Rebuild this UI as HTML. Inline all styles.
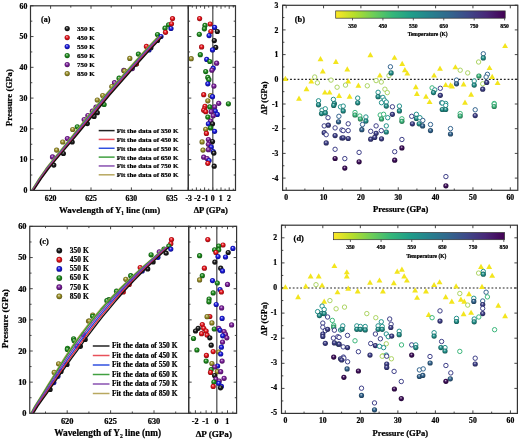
<!DOCTYPE html>
<html><head><meta charset="utf-8"><title>Figure</title>
<style>
html,body{margin:0;padding:0;background:#fff;width:520px;height:441px;overflow:hidden}
svg{display:block;font-family:"Liberation Serif","Times New Roman",serif}
text{stroke:#000;stroke-width:0.22px;fill:#000}
</style></head><body>
<svg width="520" height="441" viewBox="0 0 520 441">
<defs><radialGradient id="g0" cx="0.5" cy="0.5" r="0.55" fx="0.42" fy="0.32"><stop offset="0" stop-color="#c6c6c6"/><stop offset="0.45" stop-color="#1a1a1a"/><stop offset="1" stop-color="#0e0e0e"/></radialGradient><radialGradient id="g1" cx="0.5" cy="0.5" r="0.55" fx="0.42" fy="0.32"><stop offset="0" stop-color="#dec7e6"/><stop offset="0.45" stop-color="#7a1e9a"/><stop offset="1" stop-color="#431055"/></radialGradient><radialGradient id="g2" cx="0.5" cy="0.5" r="0.55" fx="0.42" fy="0.32"><stop offset="0" stop-color="#e6e3c9"/><stop offset="0.45" stop-color="#9a9028"/><stop offset="1" stop-color="#554f16"/></radialGradient><radialGradient id="g3" cx="0.5" cy="0.5" r="0.55" fx="0.42" fy="0.32"><stop offset="0" stop-color="#c7e2c7"/><stop offset="0.45" stop-color="#1e8c1e"/><stop offset="1" stop-color="#104d10"/></radialGradient><radialGradient id="g4" cx="0.5" cy="0.5" r="0.55" fx="0.42" fy="0.32"><stop offset="0" stop-color="#c6c6f7"/><stop offset="0.45" stop-color="#1a1ae0"/><stop offset="1" stop-color="#0e0e7b"/></radialGradient><radialGradient id="g5" cx="0.5" cy="0.5" r="0.55" fx="0.42" fy="0.32"><stop offset="0" stop-color="#f9c4c6"/><stop offset="0.45" stop-color="#e8141c"/><stop offset="1" stop-color="#800b0f"/></radialGradient><radialGradient id="g6" cx="0.5" cy="0.5" r="0.55" fx="0.42" fy="0.32"><stop offset="0" stop-color="#c8e4e2"/><stop offset="0.45" stop-color="#23918b"/><stop offset="1" stop-color="#13504c"/></radialGradient><radialGradient id="g7" cx="0.5" cy="0.5" r="0.55" fx="0.42" fy="0.32"><stop offset="0" stop-color="#cfcfe1"/><stop offset="0.45" stop-color="#3e3f88"/><stop offset="1" stop-color="#22234b"/></radialGradient><radialGradient id="g8" cx="0.5" cy="0.5" r="0.55" fx="0.42" fy="0.32"><stop offset="0" stop-color="#ceedde"/><stop offset="0.45" stop-color="#3cb77c"/><stop offset="1" stop-color="#216544"/></radialGradient><radialGradient id="g9" cx="0.5" cy="0.5" r="0.55" fx="0.42" fy="0.32"><stop offset="0" stop-color="#ccd8e3"/><stop offset="0.45" stop-color="#33648e"/><stop offset="1" stop-color="#1c374e"/></radialGradient><radialGradient id="g10" cx="0.5" cy="0.5" r="0.55" fx="0.42" fy="0.32"><stop offset="0" stop-color="#cec2d5"/><stop offset="0.45" stop-color="#3c0d58"/><stop offset="1" stop-color="#210730"/></radialGradient><linearGradient id="viridis" x1="0" y1="0" x2="1" y2="0"><stop offset="0.000" stop-color="#fde725"/><stop offset="0.111" stop-color="#b5de2b"/><stop offset="0.222" stop-color="#6ece58"/><stop offset="0.333" stop-color="#35b779"/><stop offset="0.444" stop-color="#1f9e89"/><stop offset="0.556" stop-color="#26828e"/><stop offset="0.667" stop-color="#31688e"/><stop offset="0.778" stop-color="#3e4989"/><stop offset="0.889" stop-color="#482878"/><stop offset="1.000" stop-color="#440154"/></linearGradient></defs>
<rect width="520" height="441" fill="#fff"/>
<line x1="30.50" y1="190.40" x2="33.50" y2="190.40" stroke="#333" stroke-width="0.9" />
<line x1="188.30" y1="190.40" x2="191.30" y2="190.40" stroke="#333" stroke-width="0.9" />
<line x1="235.50" y1="190.40" x2="232.50" y2="190.40" stroke="#333" stroke-width="0.9" />
<text x="27.30" y="193.20" font-size="7.8" text-anchor="end" font-weight="bold" >0</text>
<line x1="30.50" y1="175.02" x2="32.30" y2="175.02" stroke="#333" stroke-width="0.9" />
<line x1="188.30" y1="175.02" x2="190.10" y2="175.02" stroke="#333" stroke-width="0.9" />
<line x1="235.50" y1="175.02" x2="233.70" y2="175.02" stroke="#333" stroke-width="0.9" />
<line x1="30.50" y1="159.63" x2="33.50" y2="159.63" stroke="#333" stroke-width="0.9" />
<line x1="188.30" y1="159.63" x2="191.30" y2="159.63" stroke="#333" stroke-width="0.9" />
<line x1="235.50" y1="159.63" x2="232.50" y2="159.63" stroke="#333" stroke-width="0.9" />
<text x="27.30" y="162.43" font-size="7.8" text-anchor="end" font-weight="bold" >10</text>
<line x1="30.50" y1="144.25" x2="32.30" y2="144.25" stroke="#333" stroke-width="0.9" />
<line x1="188.30" y1="144.25" x2="190.10" y2="144.25" stroke="#333" stroke-width="0.9" />
<line x1="235.50" y1="144.25" x2="233.70" y2="144.25" stroke="#333" stroke-width="0.9" />
<line x1="30.50" y1="128.86" x2="33.50" y2="128.86" stroke="#333" stroke-width="0.9" />
<line x1="188.30" y1="128.86" x2="191.30" y2="128.86" stroke="#333" stroke-width="0.9" />
<line x1="235.50" y1="128.86" x2="232.50" y2="128.86" stroke="#333" stroke-width="0.9" />
<text x="27.30" y="131.66" font-size="7.8" text-anchor="end" font-weight="bold" >20</text>
<line x1="30.50" y1="113.48" x2="32.30" y2="113.48" stroke="#333" stroke-width="0.9" />
<line x1="188.30" y1="113.48" x2="190.10" y2="113.48" stroke="#333" stroke-width="0.9" />
<line x1="235.50" y1="113.48" x2="233.70" y2="113.48" stroke="#333" stroke-width="0.9" />
<line x1="30.50" y1="98.09" x2="33.50" y2="98.09" stroke="#333" stroke-width="0.9" />
<line x1="188.30" y1="98.09" x2="191.30" y2="98.09" stroke="#333" stroke-width="0.9" />
<line x1="235.50" y1="98.09" x2="232.50" y2="98.09" stroke="#333" stroke-width="0.9" />
<text x="27.30" y="100.89" font-size="7.8" text-anchor="end" font-weight="bold" >30</text>
<line x1="30.50" y1="82.71" x2="32.30" y2="82.71" stroke="#333" stroke-width="0.9" />
<line x1="188.30" y1="82.71" x2="190.10" y2="82.71" stroke="#333" stroke-width="0.9" />
<line x1="235.50" y1="82.71" x2="233.70" y2="82.71" stroke="#333" stroke-width="0.9" />
<line x1="30.50" y1="67.32" x2="33.50" y2="67.32" stroke="#333" stroke-width="0.9" />
<line x1="188.30" y1="67.32" x2="191.30" y2="67.32" stroke="#333" stroke-width="0.9" />
<line x1="235.50" y1="67.32" x2="232.50" y2="67.32" stroke="#333" stroke-width="0.9" />
<text x="27.30" y="70.12" font-size="7.8" text-anchor="end" font-weight="bold" >40</text>
<line x1="30.50" y1="51.94" x2="32.30" y2="51.94" stroke="#333" stroke-width="0.9" />
<line x1="188.30" y1="51.94" x2="190.10" y2="51.94" stroke="#333" stroke-width="0.9" />
<line x1="235.50" y1="51.94" x2="233.70" y2="51.94" stroke="#333" stroke-width="0.9" />
<line x1="30.50" y1="36.55" x2="33.50" y2="36.55" stroke="#333" stroke-width="0.9" />
<line x1="188.30" y1="36.55" x2="191.30" y2="36.55" stroke="#333" stroke-width="0.9" />
<line x1="235.50" y1="36.55" x2="232.50" y2="36.55" stroke="#333" stroke-width="0.9" />
<text x="27.30" y="39.35" font-size="7.8" text-anchor="end" font-weight="bold" >50</text>
<line x1="30.50" y1="21.17" x2="32.30" y2="21.17" stroke="#333" stroke-width="0.9" />
<line x1="188.30" y1="21.17" x2="190.10" y2="21.17" stroke="#333" stroke-width="0.9" />
<line x1="235.50" y1="21.17" x2="233.70" y2="21.17" stroke="#333" stroke-width="0.9" />
<line x1="30.50" y1="5.78" x2="33.50" y2="5.78" stroke="#333" stroke-width="0.9" />
<line x1="188.30" y1="5.78" x2="191.30" y2="5.78" stroke="#333" stroke-width="0.9" />
<line x1="235.50" y1="5.78" x2="232.50" y2="5.78" stroke="#333" stroke-width="0.9" />
<text x="27.30" y="8.58" font-size="7.8" text-anchor="end" font-weight="bold" >60</text>
<line x1="50.60" y1="190.40" x2="50.60" y2="187.40" stroke="#333" stroke-width="0.9" />
<line x1="50.60" y1="5.80" x2="50.60" y2="8.80" stroke="#333" stroke-width="0.9" />
<text x="50.60" y="200.60" font-size="7.8" text-anchor="middle" font-weight="bold" >620</text>
<line x1="70.80" y1="190.40" x2="70.80" y2="188.60" stroke="#333" stroke-width="0.9" />
<line x1="70.80" y1="5.80" x2="70.80" y2="7.60" stroke="#333" stroke-width="0.9" />
<line x1="91.00" y1="190.40" x2="91.00" y2="187.40" stroke="#333" stroke-width="0.9" />
<line x1="91.00" y1="5.80" x2="91.00" y2="8.80" stroke="#333" stroke-width="0.9" />
<text x="91.00" y="200.60" font-size="7.8" text-anchor="middle" font-weight="bold" >625</text>
<line x1="111.20" y1="190.40" x2="111.20" y2="188.60" stroke="#333" stroke-width="0.9" />
<line x1="111.20" y1="5.80" x2="111.20" y2="7.60" stroke="#333" stroke-width="0.9" />
<line x1="131.40" y1="190.40" x2="131.40" y2="187.40" stroke="#333" stroke-width="0.9" />
<line x1="131.40" y1="5.80" x2="131.40" y2="8.80" stroke="#333" stroke-width="0.9" />
<text x="131.40" y="200.60" font-size="7.8" text-anchor="middle" font-weight="bold" >630</text>
<line x1="151.60" y1="190.40" x2="151.60" y2="188.60" stroke="#333" stroke-width="0.9" />
<line x1="151.60" y1="5.80" x2="151.60" y2="7.60" stroke="#333" stroke-width="0.9" />
<line x1="171.80" y1="190.40" x2="171.80" y2="187.40" stroke="#333" stroke-width="0.9" />
<line x1="171.80" y1="5.80" x2="171.80" y2="8.80" stroke="#333" stroke-width="0.9" />
<text x="171.80" y="200.60" font-size="7.8" text-anchor="middle" font-weight="bold" >635</text>
<line x1="188.20" y1="190.40" x2="188.20" y2="187.40" stroke="#333" stroke-width="0.9" />
<line x1="188.20" y1="5.80" x2="188.20" y2="8.80" stroke="#333" stroke-width="0.9" />
<line x1="192.30" y1="190.40" x2="192.30" y2="188.60" stroke="#333" stroke-width="0.9" />
<line x1="192.30" y1="5.80" x2="192.30" y2="7.60" stroke="#333" stroke-width="0.9" />
<line x1="196.40" y1="190.40" x2="196.40" y2="187.40" stroke="#333" stroke-width="0.9" />
<line x1="196.40" y1="5.80" x2="196.40" y2="8.80" stroke="#333" stroke-width="0.9" />
<line x1="200.50" y1="190.40" x2="200.50" y2="188.60" stroke="#333" stroke-width="0.9" />
<line x1="200.50" y1="5.80" x2="200.50" y2="7.60" stroke="#333" stroke-width="0.9" />
<line x1="204.60" y1="190.40" x2="204.60" y2="187.40" stroke="#333" stroke-width="0.9" />
<line x1="204.60" y1="5.80" x2="204.60" y2="8.80" stroke="#333" stroke-width="0.9" />
<line x1="208.70" y1="190.40" x2="208.70" y2="188.60" stroke="#333" stroke-width="0.9" />
<line x1="208.70" y1="5.80" x2="208.70" y2="7.60" stroke="#333" stroke-width="0.9" />
<line x1="212.80" y1="190.40" x2="212.80" y2="187.40" stroke="#333" stroke-width="0.9" />
<line x1="212.80" y1="5.80" x2="212.80" y2="8.80" stroke="#333" stroke-width="0.9" />
<line x1="216.90" y1="190.40" x2="216.90" y2="188.60" stroke="#333" stroke-width="0.9" />
<line x1="216.90" y1="5.80" x2="216.90" y2="7.60" stroke="#333" stroke-width="0.9" />
<line x1="221.00" y1="190.40" x2="221.00" y2="187.40" stroke="#333" stroke-width="0.9" />
<line x1="221.00" y1="5.80" x2="221.00" y2="8.80" stroke="#333" stroke-width="0.9" />
<line x1="225.10" y1="190.40" x2="225.10" y2="188.60" stroke="#333" stroke-width="0.9" />
<line x1="225.10" y1="5.80" x2="225.10" y2="7.60" stroke="#333" stroke-width="0.9" />
<line x1="229.20" y1="190.40" x2="229.20" y2="187.40" stroke="#333" stroke-width="0.9" />
<line x1="229.20" y1="5.80" x2="229.20" y2="8.80" stroke="#333" stroke-width="0.9" />
<line x1="233.30" y1="190.40" x2="233.30" y2="188.60" stroke="#333" stroke-width="0.9" />
<line x1="233.30" y1="5.80" x2="233.30" y2="7.60" stroke="#333" stroke-width="0.9" />
<line x1="212.80" y1="5.80" x2="212.80" y2="190.40" stroke="#555" stroke-width="1.3" />
<text x="188.75" y="200.60" font-size="7.8" text-anchor="middle" font-weight="bold" >-3</text>
<text x="197.50" y="200.60" font-size="7.8" text-anchor="middle" font-weight="bold" >-2</text>
<text x="205.20" y="200.60" font-size="7.8" text-anchor="middle" font-weight="bold" >-1</text>
<text x="212.75" y="200.60" font-size="7.8" text-anchor="middle" font-weight="bold" >0</text>
<text x="220.80" y="200.60" font-size="7.8" text-anchor="middle" font-weight="bold" >1</text>
<text x="229.00" y="200.60" font-size="7.8" text-anchor="middle" font-weight="bold" >2</text>
<circle cx="53.80" cy="165.10" r="2.6" fill="url(#g0)"/>
<circle cx="63.40" cy="153.50" r="2.6" fill="url(#g0)"/>
<circle cx="72.20" cy="142.00" r="2.6" fill="url(#g0)"/>
<circle cx="87.30" cy="123.60" r="2.6" fill="url(#g0)"/>
<circle cx="94.10" cy="116.40" r="2.6" fill="url(#g0)"/>
<circle cx="97.30" cy="112.70" r="2.6" fill="url(#g0)"/>
<circle cx="136.30" cy="64.10" r="2.6" fill="url(#g0)"/>
<circle cx="157.50" cy="40.50" r="2.6" fill="url(#g0)"/>
<circle cx="150.90" cy="47.70" r="2.6" fill="url(#g0)"/>
<circle cx="52.50" cy="156.90" r="2.6" fill="url(#g1)"/>
<circle cx="67.40" cy="138.60" r="2.6" fill="url(#g1)"/>
<circle cx="84.20" cy="119.60" r="2.6" fill="url(#g1)"/>
<circle cx="87.90" cy="115.50" r="2.6" fill="url(#g1)"/>
<circle cx="92.40" cy="111.20" r="2.6" fill="url(#g1)"/>
<circle cx="96.00" cy="107.20" r="2.6" fill="url(#g1)"/>
<circle cx="114.50" cy="82.70" r="2.6" fill="url(#g1)"/>
<circle cx="123.80" cy="70.40" r="2.6" fill="url(#g1)"/>
<circle cx="132.30" cy="68.60" r="2.6" fill="url(#g1)"/>
<circle cx="56.60" cy="150.10" r="2.6" fill="url(#g2)"/>
<circle cx="62.70" cy="142.00" r="2.6" fill="url(#g2)"/>
<circle cx="72.70" cy="129.50" r="2.6" fill="url(#g2)"/>
<circle cx="97.30" cy="100.00" r="2.6" fill="url(#g2)"/>
<circle cx="102.70" cy="95.50" r="2.6" fill="url(#g2)"/>
<circle cx="111.80" cy="86.50" r="2.6" fill="url(#g2)"/>
<circle cx="124.50" cy="70.90" r="2.6" fill="url(#g2)"/>
<circle cx="129.80" cy="58.40" r="2.6" fill="url(#g2)"/>
<circle cx="77.30" cy="126.80" r="2.6" fill="url(#g3)"/>
<circle cx="104.10" cy="104.50" r="2.6" fill="url(#g3)"/>
<circle cx="119.10" cy="78.20" r="2.6" fill="url(#g3)"/>
<circle cx="138.40" cy="54.10" r="2.6" fill="url(#g3)"/>
<circle cx="157.50" cy="34.50" r="2.6" fill="url(#g3)"/>
<circle cx="165.00" cy="28.20" r="2.6" fill="url(#g3)"/>
<circle cx="168.60" cy="24.80" r="2.6" fill="url(#g3)"/>
<circle cx="149.00" cy="49.90" r="2.6" fill="url(#g4)"/>
<circle cx="161.00" cy="36.50" r="2.6" fill="url(#g4)"/>
<circle cx="171.00" cy="28.50" r="2.6" fill="url(#g4)"/>
<circle cx="136.40" cy="63.60" r="2.6" fill="url(#g5)"/>
<circle cx="146.40" cy="46.40" r="2.6" fill="url(#g5)"/>
<circle cx="165.50" cy="32.30" r="2.6" fill="url(#g5)"/>
<circle cx="171.50" cy="23.80" r="2.6" fill="url(#g5)"/>
<circle cx="172.50" cy="18.60" r="2.6" fill="url(#g5)"/>
<path d="M31.59,190.40 L38.94,178.60 L45.62,169.00 L52.53,160.20 L59.74,151.40 L72.97,135.00 L88.90,115.00 L105.30,95.00 L125.10,72.50 L145.30,50.00 L158.10,36.50" fill="none" stroke="#b0a050" stroke-width="1.3" stroke-linejoin="round"/>
<path d="M31.95,190.40 L39.37,178.60 L46.11,169.00 L53.07,160.20 L60.33,151.40 L73.67,135.00 L89.70,115.00 L106.10,95.00 L125.90,72.50 L146.10,50.00 L158.90,36.50" fill="none" stroke="#30a030" stroke-width="1.3" stroke-linejoin="round"/>
<path d="M32.81,190.40 L40.39,178.60 L47.28,169.00 L54.36,160.20 L61.75,151.40 L75.33,135.00 L91.60,115.00 L108.00,95.00 L127.80,72.50 L148.00,50.00 L160.80,36.50" fill="none" stroke="#2040e0" stroke-width="1.3" stroke-linejoin="round"/>
<path d="M32.41,190.40 L39.91,178.60 L46.73,169.00 L53.75,160.20 L61.08,151.40 L74.54,135.00 L90.70,115.00 L107.10,95.00 L126.90,72.50 L147.10,50.00 L159.90,36.50" fill="none" stroke="#8040b0" stroke-width="1.3" stroke-linejoin="round"/>
<path d="M33.21,190.40 L40.88,178.60 L47.83,169.00 L54.98,160.20 L62.42,151.40 L76.11,135.00 L92.50,115.00 L108.90,95.00 L128.70,72.50 L148.90,50.00 L161.70,36.50" fill="none" stroke="#e03040" stroke-width="1.3" stroke-linejoin="round"/>
<path d="M33.62,190.40 L41.36,178.60 L48.38,169.00 L55.59,160.20 L63.09,151.40 L76.89,135.00 L93.40,115.00 L109.80,95.00 L129.60,72.50 L149.80,50.00 L162.60,36.50" fill="none" stroke="#111" stroke-width="1.3" stroke-linejoin="round"/>
<circle cx="199.60" cy="18.60" r="2.6" fill="url(#g5)"/>
<circle cx="210.20" cy="24.00" r="2.6" fill="url(#g5)"/>
<circle cx="205.00" cy="25.40" r="2.6" fill="url(#g3)"/>
<circle cx="204.40" cy="28.80" r="2.6" fill="url(#g3)"/>
<circle cx="214.60" cy="27.40" r="2.6" fill="url(#g4)"/>
<circle cx="210.80" cy="31.50" r="2.6" fill="url(#g5)"/>
<circle cx="217.30" cy="31.50" r="2.6" fill="url(#g0)"/>
<circle cx="199.30" cy="34.30" r="2.6" fill="url(#g3)"/>
<circle cx="209.10" cy="35.60" r="2.6" fill="url(#g4)"/>
<circle cx="214.30" cy="40.60" r="2.6" fill="url(#g0)"/>
<circle cx="201.60" cy="46.90" r="2.6" fill="url(#g5)"/>
<circle cx="215.70" cy="47.40" r="2.6" fill="url(#g0)"/>
<circle cx="212.50" cy="49.90" r="2.6" fill="url(#g4)"/>
<circle cx="200.30" cy="54.70" r="2.6" fill="url(#g3)"/>
<circle cx="191.20" cy="58.70" r="2.6" fill="url(#g2)"/>
<circle cx="206.70" cy="59.40" r="2.6" fill="url(#g4)"/>
<circle cx="209.80" cy="61.50" r="2.6" fill="url(#g3)"/>
<circle cx="216.60" cy="63.20" r="2.6" fill="url(#g1)"/>
<circle cx="213.20" cy="68.20" r="2.6" fill="url(#g4)"/>
<circle cx="211.90" cy="70.20" r="2.6" fill="url(#g1)"/>
<circle cx="205.70" cy="71.60" r="2.6" fill="url(#g3)"/>
<circle cx="207.80" cy="77.40" r="2.6" fill="url(#g3)"/>
<circle cx="208.90" cy="79.70" r="2.6" fill="url(#g3)"/>
<circle cx="207.80" cy="83.80" r="2.6" fill="url(#g4)"/>
<circle cx="213.90" cy="86.10" r="2.6" fill="url(#g1)"/>
<circle cx="203.70" cy="94.70" r="2.6" fill="url(#g5)"/>
<circle cx="210.50" cy="95.60" r="2.6" fill="url(#g2)"/>
<circle cx="212.50" cy="96.70" r="2.6" fill="url(#g4)"/>
<circle cx="207.80" cy="100.80" r="2.6" fill="url(#g2)"/>
<circle cx="218.70" cy="103.30" r="2.6" fill="url(#g1)"/>
<circle cx="228.40" cy="103.80" r="2.6" fill="url(#g3)"/>
<circle cx="205.00" cy="106.30" r="2.6" fill="url(#g5)"/>
<circle cx="209.80" cy="106.90" r="2.6" fill="url(#g3)"/>
<circle cx="214.60" cy="106.90" r="2.6" fill="url(#g1)"/>
<circle cx="204.40" cy="109.00" r="2.6" fill="url(#g5)"/>
<circle cx="203.70" cy="110.30" r="2.6" fill="url(#g5)"/>
<circle cx="205.70" cy="111.70" r="2.6" fill="url(#g5)"/>
<circle cx="215.30" cy="111.00" r="2.6" fill="url(#g4)"/>
<circle cx="211.20" cy="111.70" r="2.6" fill="url(#g1)"/>
<circle cx="217.30" cy="114.40" r="2.6" fill="url(#g4)"/>
<circle cx="207.80" cy="117.10" r="2.6" fill="url(#g3)"/>
<circle cx="213.20" cy="115.80" r="2.6" fill="url(#g1)"/>
<circle cx="210.50" cy="121.10" r="2.6" fill="url(#g1)"/>
<circle cx="208.40" cy="123.80" r="2.6" fill="url(#g4)"/>
<circle cx="212.50" cy="123.80" r="2.6" fill="url(#g0)"/>
<circle cx="210.50" cy="127.90" r="2.6" fill="url(#g3)"/>
<circle cx="205.70" cy="129.30" r="2.6" fill="url(#g2)"/>
<circle cx="214.60" cy="131.30" r="2.6" fill="url(#g4)"/>
<circle cx="206.40" cy="133.40" r="2.6" fill="url(#g5)"/>
<circle cx="208.40" cy="139.50" r="2.6" fill="url(#g1)"/>
<circle cx="202.10" cy="141.90" r="2.6" fill="url(#g2)"/>
<circle cx="210.50" cy="142.20" r="2.6" fill="url(#g1)"/>
<circle cx="212.50" cy="141.50" r="2.6" fill="url(#g0)"/>
<circle cx="208.40" cy="144.30" r="2.6" fill="url(#g1)"/>
<circle cx="211.20" cy="147.00" r="2.6" fill="url(#g4)"/>
<circle cx="203.00" cy="150.10" r="2.6" fill="url(#g2)"/>
<circle cx="208.40" cy="149.70" r="2.6" fill="url(#g1)"/>
<circle cx="213.20" cy="151.70" r="2.6" fill="url(#g4)"/>
<circle cx="213.90" cy="153.10" r="2.6" fill="url(#g0)"/>
<circle cx="203.70" cy="157.20" r="2.6" fill="url(#g1)"/>
<circle cx="207.10" cy="158.50" r="2.6" fill="url(#g1)"/>
<circle cx="209.10" cy="160.60" r="2.6" fill="url(#g4)"/>
<circle cx="207.80" cy="163.30" r="2.6" fill="url(#g5)"/>
<circle cx="214.20" cy="166.20" r="2.6" fill="url(#g0)"/>
<rect x="30.50" y="5.80" width="157.80" height="184.60" fill="none" stroke="#333" stroke-width="1.2"/>
<rect x="188.30" y="5.80" width="47.20" height="184.60" fill="none" stroke="#333" stroke-width="1.2"/>
<circle cx="67.20" cy="28.60" r="2.6" fill="url(#g0)"/>
<text x="77.00" y="31.00" font-size="7.0" text-anchor="start" font-weight="bold" >350 K</text>
<circle cx="67.20" cy="37.60" r="2.6" fill="url(#g5)"/>
<text x="77.00" y="40.00" font-size="7.0" text-anchor="start" font-weight="bold" >450 K</text>
<circle cx="67.20" cy="46.60" r="2.6" fill="url(#g4)"/>
<text x="77.00" y="49.00" font-size="7.0" text-anchor="start" font-weight="bold" >550 K</text>
<circle cx="67.20" cy="55.60" r="2.6" fill="url(#g3)"/>
<text x="77.00" y="58.00" font-size="7.0" text-anchor="start" font-weight="bold" >650 K</text>
<circle cx="67.20" cy="64.60" r="2.6" fill="url(#g1)"/>
<text x="77.00" y="67.00" font-size="7.0" text-anchor="start" font-weight="bold" >750 K</text>
<circle cx="67.20" cy="73.60" r="2.6" fill="url(#g2)"/>
<text x="77.00" y="76.00" font-size="7.0" text-anchor="start" font-weight="bold" >850 K</text>
<line x1="98.70" y1="130.60" x2="114.60" y2="130.60" stroke="#222" stroke-width="1.5" />
<text x="116.80" y="133.00" font-size="7.0" text-anchor="start" font-weight="bold" >Fit the data of 350 K</text>
<line x1="98.70" y1="139.44" x2="114.60" y2="139.44" stroke="#e8505a" stroke-width="1.5" />
<text x="116.80" y="141.84" font-size="7.0" text-anchor="start" font-weight="bold" >Fit the data of 450 K</text>
<line x1="98.70" y1="148.28" x2="114.60" y2="148.28" stroke="#3050e0" stroke-width="1.5" />
<text x="116.80" y="150.68" font-size="7.0" text-anchor="start" font-weight="bold" >Fit the data of 550 K</text>
<line x1="98.70" y1="157.12" x2="114.60" y2="157.12" stroke="#40a040" stroke-width="1.5" />
<text x="116.80" y="159.52" font-size="7.0" text-anchor="start" font-weight="bold" >Fit the data of 650 K</text>
<line x1="98.70" y1="165.96" x2="114.60" y2="165.96" stroke="#8850b0" stroke-width="1.5" />
<text x="116.80" y="168.36" font-size="7.0" text-anchor="start" font-weight="bold" >Fit the data of 750 K</text>
<line x1="98.70" y1="174.80" x2="114.60" y2="174.80" stroke="#b8a860" stroke-width="1.5" />
<text x="116.80" y="177.20" font-size="7.0" text-anchor="start" font-weight="bold" >Fit the data of 850 K</text>
<text x="41.00" y="22.30" font-size="8" text-anchor="start" font-weight="bold" >(a)</text>
<text x="12.00" y="97.60" font-size="8.8" text-anchor="middle" font-weight="bold" transform="rotate(-90 12.00 97.60)">Pressure (GPa)</text>
<text x="109.60" y="212.70" font-size="8.8" text-anchor="middle" font-weight="bold">Wavelength of Y<tspan font-size="5.3" dy="2">1</tspan><tspan dy="-2"> line (nm)</tspan></text>
<text x="210.80" y="212.80" font-size="8.6" text-anchor="middle" font-weight="bold">ΔP (GPa)</text>
<line x1="29.75" y1="413.30" x2="32.75" y2="413.30" stroke="#333" stroke-width="0.9" />
<line x1="188.70" y1="413.30" x2="191.70" y2="413.30" stroke="#333" stroke-width="0.9" />
<line x1="236.60" y1="413.30" x2="233.60" y2="413.30" stroke="#333" stroke-width="0.9" />
<text x="26.55" y="416.10" font-size="8.4" text-anchor="end" font-weight="bold" >0</text>
<line x1="29.75" y1="397.73" x2="31.55" y2="397.73" stroke="#333" stroke-width="0.9" />
<line x1="188.70" y1="397.73" x2="190.50" y2="397.73" stroke="#333" stroke-width="0.9" />
<line x1="236.60" y1="397.73" x2="234.80" y2="397.73" stroke="#333" stroke-width="0.9" />
<line x1="29.75" y1="382.15" x2="32.75" y2="382.15" stroke="#333" stroke-width="0.9" />
<line x1="188.70" y1="382.15" x2="191.70" y2="382.15" stroke="#333" stroke-width="0.9" />
<line x1="236.60" y1="382.15" x2="233.60" y2="382.15" stroke="#333" stroke-width="0.9" />
<text x="26.55" y="384.95" font-size="8.4" text-anchor="end" font-weight="bold" >10</text>
<line x1="29.75" y1="366.57" x2="31.55" y2="366.57" stroke="#333" stroke-width="0.9" />
<line x1="188.70" y1="366.57" x2="190.50" y2="366.57" stroke="#333" stroke-width="0.9" />
<line x1="236.60" y1="366.57" x2="234.80" y2="366.57" stroke="#333" stroke-width="0.9" />
<line x1="29.75" y1="351.00" x2="32.75" y2="351.00" stroke="#333" stroke-width="0.9" />
<line x1="188.70" y1="351.00" x2="191.70" y2="351.00" stroke="#333" stroke-width="0.9" />
<line x1="236.60" y1="351.00" x2="233.60" y2="351.00" stroke="#333" stroke-width="0.9" />
<text x="26.55" y="353.80" font-size="8.4" text-anchor="end" font-weight="bold" >20</text>
<line x1="29.75" y1="335.43" x2="31.55" y2="335.43" stroke="#333" stroke-width="0.9" />
<line x1="188.70" y1="335.43" x2="190.50" y2="335.43" stroke="#333" stroke-width="0.9" />
<line x1="236.60" y1="335.43" x2="234.80" y2="335.43" stroke="#333" stroke-width="0.9" />
<line x1="29.75" y1="319.85" x2="32.75" y2="319.85" stroke="#333" stroke-width="0.9" />
<line x1="188.70" y1="319.85" x2="191.70" y2="319.85" stroke="#333" stroke-width="0.9" />
<line x1="236.60" y1="319.85" x2="233.60" y2="319.85" stroke="#333" stroke-width="0.9" />
<text x="26.55" y="322.65" font-size="8.4" text-anchor="end" font-weight="bold" >30</text>
<line x1="29.75" y1="304.27" x2="31.55" y2="304.27" stroke="#333" stroke-width="0.9" />
<line x1="188.70" y1="304.27" x2="190.50" y2="304.27" stroke="#333" stroke-width="0.9" />
<line x1="236.60" y1="304.27" x2="234.80" y2="304.27" stroke="#333" stroke-width="0.9" />
<line x1="29.75" y1="288.70" x2="32.75" y2="288.70" stroke="#333" stroke-width="0.9" />
<line x1="188.70" y1="288.70" x2="191.70" y2="288.70" stroke="#333" stroke-width="0.9" />
<line x1="236.60" y1="288.70" x2="233.60" y2="288.70" stroke="#333" stroke-width="0.9" />
<text x="26.55" y="291.50" font-size="8.4" text-anchor="end" font-weight="bold" >40</text>
<line x1="29.75" y1="273.12" x2="31.55" y2="273.12" stroke="#333" stroke-width="0.9" />
<line x1="188.70" y1="273.12" x2="190.50" y2="273.12" stroke="#333" stroke-width="0.9" />
<line x1="236.60" y1="273.12" x2="234.80" y2="273.12" stroke="#333" stroke-width="0.9" />
<line x1="29.75" y1="257.55" x2="32.75" y2="257.55" stroke="#333" stroke-width="0.9" />
<line x1="188.70" y1="257.55" x2="191.70" y2="257.55" stroke="#333" stroke-width="0.9" />
<line x1="236.60" y1="257.55" x2="233.60" y2="257.55" stroke="#333" stroke-width="0.9" />
<text x="26.55" y="260.35" font-size="8.4" text-anchor="end" font-weight="bold" >50</text>
<line x1="29.75" y1="241.97" x2="31.55" y2="241.97" stroke="#333" stroke-width="0.9" />
<line x1="188.70" y1="241.97" x2="190.50" y2="241.97" stroke="#333" stroke-width="0.9" />
<line x1="236.60" y1="241.97" x2="234.80" y2="241.97" stroke="#333" stroke-width="0.9" />
<line x1="29.75" y1="226.40" x2="32.75" y2="226.40" stroke="#333" stroke-width="0.9" />
<line x1="188.70" y1="226.40" x2="191.70" y2="226.40" stroke="#333" stroke-width="0.9" />
<line x1="236.60" y1="226.40" x2="233.60" y2="226.40" stroke="#333" stroke-width="0.9" />
<text x="26.55" y="229.20" font-size="8.4" text-anchor="end" font-weight="bold" >60</text>
<line x1="45.50" y1="413.30" x2="45.50" y2="411.50" stroke="#333" stroke-width="0.9" />
<line x1="45.50" y1="226.30" x2="45.50" y2="228.10" stroke="#333" stroke-width="0.9" />
<line x1="67.20" y1="413.30" x2="67.20" y2="410.30" stroke="#333" stroke-width="0.9" />
<line x1="67.20" y1="226.30" x2="67.20" y2="229.30" stroke="#333" stroke-width="0.9" />
<text x="67.20" y="423.90" font-size="8.4" text-anchor="middle" font-weight="bold" >620</text>
<line x1="88.90" y1="413.30" x2="88.90" y2="411.50" stroke="#333" stroke-width="0.9" />
<line x1="88.90" y1="226.30" x2="88.90" y2="228.10" stroke="#333" stroke-width="0.9" />
<line x1="110.60" y1="413.30" x2="110.60" y2="410.30" stroke="#333" stroke-width="0.9" />
<line x1="110.60" y1="226.30" x2="110.60" y2="229.30" stroke="#333" stroke-width="0.9" />
<text x="110.60" y="423.90" font-size="8.4" text-anchor="middle" font-weight="bold" >625</text>
<line x1="132.30" y1="413.30" x2="132.30" y2="411.50" stroke="#333" stroke-width="0.9" />
<line x1="132.30" y1="226.30" x2="132.30" y2="228.10" stroke="#333" stroke-width="0.9" />
<line x1="154.00" y1="413.30" x2="154.00" y2="410.30" stroke="#333" stroke-width="0.9" />
<line x1="154.00" y1="226.30" x2="154.00" y2="229.30" stroke="#333" stroke-width="0.9" />
<text x="154.00" y="423.90" font-size="8.4" text-anchor="middle" font-weight="bold" >630</text>
<line x1="175.70" y1="413.30" x2="175.70" y2="411.50" stroke="#333" stroke-width="0.9" />
<line x1="175.70" y1="226.30" x2="175.70" y2="228.10" stroke="#333" stroke-width="0.9" />
<line x1="190.05" y1="413.30" x2="190.05" y2="411.50" stroke="#333" stroke-width="0.9" />
<line x1="190.05" y1="226.30" x2="190.05" y2="228.10" stroke="#333" stroke-width="0.9" />
<line x1="195.40" y1="413.30" x2="195.40" y2="410.30" stroke="#333" stroke-width="0.9" />
<line x1="195.40" y1="226.30" x2="195.40" y2="229.30" stroke="#333" stroke-width="0.9" />
<line x1="200.75" y1="413.30" x2="200.75" y2="411.50" stroke="#333" stroke-width="0.9" />
<line x1="200.75" y1="226.30" x2="200.75" y2="228.10" stroke="#333" stroke-width="0.9" />
<line x1="206.10" y1="413.30" x2="206.10" y2="410.30" stroke="#333" stroke-width="0.9" />
<line x1="206.10" y1="226.30" x2="206.10" y2="229.30" stroke="#333" stroke-width="0.9" />
<line x1="211.45" y1="413.30" x2="211.45" y2="411.50" stroke="#333" stroke-width="0.9" />
<line x1="211.45" y1="226.30" x2="211.45" y2="228.10" stroke="#333" stroke-width="0.9" />
<line x1="216.80" y1="413.30" x2="216.80" y2="410.30" stroke="#333" stroke-width="0.9" />
<line x1="216.80" y1="226.30" x2="216.80" y2="229.30" stroke="#333" stroke-width="0.9" />
<line x1="222.15" y1="413.30" x2="222.15" y2="411.50" stroke="#333" stroke-width="0.9" />
<line x1="222.15" y1="226.30" x2="222.15" y2="228.10" stroke="#333" stroke-width="0.9" />
<line x1="227.50" y1="413.30" x2="227.50" y2="410.30" stroke="#333" stroke-width="0.9" />
<line x1="227.50" y1="226.30" x2="227.50" y2="229.30" stroke="#333" stroke-width="0.9" />
<line x1="232.85" y1="413.30" x2="232.85" y2="411.50" stroke="#333" stroke-width="0.9" />
<line x1="232.85" y1="226.30" x2="232.85" y2="228.10" stroke="#333" stroke-width="0.9" />
<line x1="216.80" y1="226.30" x2="216.80" y2="413.30" stroke="#555" stroke-width="1.3" />
<text x="195.25" y="423.90" font-size="8.2" text-anchor="middle" font-weight="bold" >-2</text>
<text x="205.60" y="423.90" font-size="8.2" text-anchor="middle" font-weight="bold" >-1</text>
<text x="216.60" y="423.90" font-size="8.2" text-anchor="middle" font-weight="bold" >0</text>
<text x="227.30" y="423.90" font-size="8.2" text-anchor="middle" font-weight="bold" >1</text>
<circle cx="171.50" cy="239.60" r="2.6" fill="url(#g5)"/>
<circle cx="170.80" cy="243.70" r="2.6" fill="url(#g5)"/>
<circle cx="168.80" cy="246.10" r="2.6" fill="url(#g3)"/>
<circle cx="170.80" cy="249.10" r="2.6" fill="url(#g4)"/>
<circle cx="164.00" cy="249.10" r="2.6" fill="url(#g3)"/>
<circle cx="166.10" cy="253.20" r="2.6" fill="url(#g0)"/>
<circle cx="159.30" cy="251.90" r="2.6" fill="url(#g1)"/>
<circle cx="151.10" cy="254.80" r="2.6" fill="url(#g3)"/>
<circle cx="157.90" cy="257.30" r="2.6" fill="url(#g4)"/>
<circle cx="153.10" cy="262.00" r="2.6" fill="url(#g0)"/>
<circle cx="140.20" cy="267.50" r="2.6" fill="url(#g5)"/>
<circle cx="147.70" cy="268.90" r="2.6" fill="url(#g0)"/>
<circle cx="142.20" cy="270.90" r="2.6" fill="url(#g4)"/>
<circle cx="130.70" cy="275.70" r="2.6" fill="url(#g3)"/>
<circle cx="130.70" cy="281.10" r="2.6" fill="url(#g1)"/>
<circle cx="125.80" cy="279.30" r="2.6" fill="url(#g2)"/>
<circle cx="116.50" cy="291.20" r="2.6" fill="url(#g3)"/>
<circle cx="108.90" cy="299.70" r="2.6" fill="url(#g3)"/>
<circle cx="92.70" cy="315.00" r="2.6" fill="url(#g2)"/>
<circle cx="88.50" cy="321.00" r="2.6" fill="url(#g2)"/>
<circle cx="83.40" cy="334.50" r="2.6" fill="url(#g1)"/>
<circle cx="123.30" cy="292.00" r="2.6" fill="url(#g5)"/>
<circle cx="129.20" cy="284.40" r="2.6" fill="url(#g5)"/>
<circle cx="73.60" cy="338.80" r="2.6" fill="url(#g3)"/>
<circle cx="67.50" cy="348.30" r="2.6" fill="url(#g3)"/>
<circle cx="89.30" cy="321.10" r="2.6" fill="url(#g2)"/>
<circle cx="92.70" cy="316.30" r="2.6" fill="url(#g3)"/>
<circle cx="80.40" cy="346.30" r="2.6" fill="url(#g0)"/>
<circle cx="85.20" cy="339.50" r="2.6" fill="url(#g0)"/>
<circle cx="106.90" cy="300.70" r="2.6" fill="url(#g3)"/>
<circle cx="50.10" cy="389.50" r="2.6" fill="url(#g0)"/>
<circle cx="53.80" cy="382.60" r="2.6" fill="url(#g4)"/>
<circle cx="57.90" cy="376.30" r="2.6" fill="url(#g4)"/>
<circle cx="61.00" cy="371.50" r="2.6" fill="url(#g0)"/>
<circle cx="54.20" cy="372.40" r="2.6" fill="url(#g2)"/>
<circle cx="58.60" cy="363.80" r="2.6" fill="url(#g2)"/>
<circle cx="67.00" cy="364.50" r="2.6" fill="url(#g0)"/>
<circle cx="67.40" cy="349.50" r="2.6" fill="url(#g3)"/>
<circle cx="74.20" cy="340.70" r="2.6" fill="url(#g3)"/>
<circle cx="76.90" cy="346.10" r="2.6" fill="url(#g1)"/>
<path d="M30.88,413.30 L34.59,406.38 L38.90,399.47 L43.16,392.55 L47.38,385.63 L51.59,378.72 L55.82,371.80 L60.09,364.88 L64.42,357.97 L68.84,351.05 L73.52,344.13 L78.51,337.22 L83.65,330.30 L88.96,323.38 L94.46,316.47 L100.16,309.55 L106.25,302.63 L112.74,295.72 L119.48,288.80 L126.49,281.88 L133.79,274.97 L141.38,268.05 L149.19,261.13 L157.13,254.22 L165.39,247.30" fill="none" stroke="#b0a050" stroke-width="1.3" stroke-linejoin="round"/>
<path d="M31.18,413.30 L34.96,406.38 L39.35,399.47 L43.68,392.55 L47.97,385.63 L52.26,378.72 L56.56,371.80 L60.90,364.88 L65.31,357.97 L69.80,351.05 L74.52,344.13 L79.51,337.22 L84.65,330.30 L89.96,323.38 L95.46,316.47 L101.16,309.55 L107.21,302.63 L113.63,295.72 L120.31,288.80 L127.25,281.88 L134.47,274.97 L141.99,268.05 L149.73,261.13 L157.60,254.22 L165.79,247.30" fill="none" stroke="#30a030" stroke-width="1.3" stroke-linejoin="round"/>
<path d="M32.32,413.30 L36.38,406.38 L41.05,399.47 L45.65,392.55 L50.23,385.63 L54.79,378.72 L59.37,371.80 L63.99,364.88 L68.68,357.97 L73.45,351.05 L78.32,344.13 L83.31,337.22 L88.45,330.30 L93.76,323.38 L99.26,316.47 L104.96,309.55 L110.88,302.63 L117.03,295.72 L123.43,288.80 L130.10,281.88 L137.05,274.97 L144.30,268.05 L151.77,261.13 L159.37,254.22 L167.31,247.30" fill="none" stroke="#2040e0" stroke-width="1.3" stroke-linejoin="round"/>
<path d="M31.72,413.30 L35.63,406.38 L40.15,399.47 L44.61,392.55 L49.04,385.63 L53.46,378.72 L57.89,371.80 L62.36,364.88 L66.90,357.97 L71.52,351.05 L76.32,344.13 L81.31,337.22 L86.45,330.30 L91.76,323.38 L97.26,316.47 L102.96,309.55 L108.95,302.63 L115.24,295.72 L121.79,288.80 L128.60,281.88 L135.69,274.97 L143.08,268.05 L150.70,261.13 L158.44,254.22 L166.51,247.30" fill="none" stroke="#8040b0" stroke-width="1.3" stroke-linejoin="round"/>
<path d="M32.86,413.30 L37.05,406.38 L41.85,399.47 L46.59,392.55 L51.29,385.63 L55.99,378.72 L60.70,371.80 L65.46,364.88 L70.27,357.97 L75.17,351.05 L80.12,344.13 L85.11,337.22 L90.25,330.30 L95.56,323.38 L101.06,316.47 L106.76,309.55 L112.62,302.63 L118.64,295.72 L124.91,288.80 L131.45,281.88 L138.28,274.97 L145.40,268.05 L152.74,261.13 L160.21,254.22 L168.03,247.30" fill="none" stroke="#e03040" stroke-width="1.3" stroke-linejoin="round"/>
<path d="M33.43,413.30 L37.76,406.38 L42.70,399.47 L47.58,392.55 L52.42,385.63 L57.26,378.72 L62.11,371.80 L67.00,364.88 L71.96,357.97 L77.00,351.05 L82.02,344.13 L87.01,337.22 L92.15,330.30 L97.46,323.38 L102.96,316.47 L108.66,309.55 L114.45,302.63 L120.33,295.72 L126.47,288.80 L132.88,281.88 L139.57,274.97 L146.55,268.05 L153.76,261.13 L161.09,254.22 L168.79,247.30" fill="none" stroke="#111" stroke-width="1.3" stroke-linejoin="round"/>
<circle cx="207.80" cy="239.60" r="2.6" fill="url(#g5)"/>
<circle cx="223.00" cy="245.00" r="2.6" fill="url(#g5)"/>
<circle cx="218.70" cy="246.10" r="2.6" fill="url(#g3)"/>
<circle cx="214.60" cy="249.80" r="2.6" fill="url(#g3)"/>
<circle cx="218.70" cy="249.80" r="2.6" fill="url(#g3)"/>
<circle cx="232.90" cy="248.40" r="2.6" fill="url(#g4)"/>
<circle cx="228.20" cy="252.50" r="2.6" fill="url(#g0)"/>
<circle cx="215.90" cy="252.50" r="2.6" fill="url(#g5)"/>
<circle cx="199.60" cy="255.70" r="2.6" fill="url(#g3)"/>
<circle cx="218.00" cy="256.60" r="2.6" fill="url(#g4)"/>
<circle cx="225.50" cy="257.00" r="2.6" fill="url(#g4)"/>
<circle cx="214.80" cy="262.10" r="2.6" fill="url(#g0)"/>
<circle cx="204.40" cy="268.20" r="2.6" fill="url(#g5)"/>
<circle cx="220.70" cy="268.20" r="2.6" fill="url(#g0)"/>
<circle cx="222.50" cy="270.90" r="2.6" fill="url(#g4)"/>
<circle cx="202.30" cy="275.70" r="2.6" fill="url(#g3)"/>
<circle cx="199.60" cy="279.90" r="2.6" fill="url(#g2)"/>
<circle cx="212.50" cy="280.60" r="2.6" fill="url(#g4)"/>
<circle cx="217.30" cy="283.00" r="2.6" fill="url(#g3)"/>
<circle cx="227.50" cy="284.40" r="2.6" fill="url(#g1)"/>
<circle cx="220.00" cy="289.50" r="2.6" fill="url(#g4)"/>
<circle cx="221.40" cy="292.00" r="2.6" fill="url(#g5)"/>
<circle cx="213.20" cy="292.90" r="2.6" fill="url(#g3)"/>
<circle cx="209.10" cy="299.00" r="2.6" fill="url(#g3)"/>
<circle cx="208.90" cy="301.80" r="2.6" fill="url(#g3)"/>
<circle cx="216.20" cy="304.50" r="2.6" fill="url(#g4)"/>
<circle cx="221.60" cy="307.90" r="2.6" fill="url(#g1)"/>
<circle cx="209.80" cy="316.50" r="2.6" fill="url(#g5)"/>
<circle cx="207.10" cy="316.70" r="2.6" fill="url(#g2)"/>
<circle cx="222.10" cy="318.40" r="2.6" fill="url(#g4)"/>
<circle cx="211.90" cy="322.90" r="2.6" fill="url(#g2)"/>
<circle cx="231.60" cy="324.90" r="2.6" fill="url(#g1)"/>
<circle cx="202.30" cy="324.60" r="2.6" fill="url(#g5)"/>
<circle cx="203.70" cy="328.30" r="2.6" fill="url(#g5)"/>
<circle cx="214.30" cy="329.00" r="2.6" fill="url(#g3)"/>
<circle cx="218.70" cy="328.30" r="2.6" fill="url(#g1)"/>
<circle cx="220.00" cy="330.30" r="2.6" fill="url(#g4)"/>
<circle cx="195.50" cy="331.00" r="2.6" fill="url(#g0)"/>
<circle cx="198.20" cy="328.30" r="2.6" fill="url(#g0)"/>
<circle cx="206.10" cy="331.00" r="2.6" fill="url(#g5)"/>
<circle cx="201.60" cy="333.70" r="2.6" fill="url(#g5)"/>
<circle cx="224.10" cy="331.70" r="2.6" fill="url(#g1)"/>
<circle cx="225.50" cy="334.40" r="2.6" fill="url(#g1)"/>
<circle cx="222.70" cy="335.80" r="2.6" fill="url(#g4)"/>
<circle cx="207.10" cy="335.10" r="2.6" fill="url(#g5)"/>
<circle cx="209.80" cy="337.80" r="2.6" fill="url(#g0)"/>
<circle cx="193.50" cy="338.50" r="2.6" fill="url(#g3)"/>
<circle cx="226.80" cy="337.80" r="2.6" fill="url(#g1)"/>
<circle cx="222.50" cy="342.10" r="2.6" fill="url(#g1)"/>
<circle cx="211.20" cy="345.20" r="2.6" fill="url(#g0)"/>
<circle cx="221.40" cy="347.20" r="2.6" fill="url(#g4)"/>
<circle cx="196.90" cy="350.00" r="2.6" fill="url(#g3)"/>
<circle cx="213.20" cy="351.60" r="2.6" fill="url(#g5)"/>
<circle cx="218.70" cy="352.00" r="2.6" fill="url(#g2)"/>
<circle cx="220.70" cy="354.00" r="2.6" fill="url(#g4)"/>
<circle cx="206.40" cy="355.40" r="2.6" fill="url(#g5)"/>
<circle cx="206.10" cy="361.10" r="2.6" fill="url(#g3)"/>
<circle cx="222.10" cy="361.10" r="2.6" fill="url(#g1)"/>
<circle cx="211.90" cy="363.60" r="2.6" fill="url(#g2)"/>
<circle cx="217.60" cy="366.00" r="2.6" fill="url(#g4)"/>
<circle cx="214.60" cy="367.00" r="2.6" fill="url(#g1)"/>
<circle cx="211.20" cy="369.70" r="2.6" fill="url(#g3)"/>
<circle cx="210.50" cy="372.40" r="2.6" fill="url(#g5)"/>
<circle cx="217.30" cy="371.70" r="2.6" fill="url(#g2)"/>
<circle cx="220.70" cy="371.70" r="2.6" fill="url(#g1)"/>
<circle cx="214.60" cy="375.50" r="2.6" fill="url(#g0)"/>
<circle cx="224.10" cy="378.30" r="2.6" fill="url(#g1)"/>
<circle cx="215.90" cy="379.20" r="2.6" fill="url(#g1)"/>
<circle cx="219.30" cy="381.00" r="2.6" fill="url(#g1)"/>
<circle cx="213.90" cy="382.00" r="2.6" fill="url(#g3)"/>
<circle cx="218.70" cy="383.30" r="2.6" fill="url(#g4)"/>
<circle cx="213.20" cy="386.40" r="2.6" fill="url(#g5)"/>
<circle cx="221.40" cy="386.40" r="2.6" fill="url(#g4)"/>
<circle cx="220.50" cy="387.80" r="2.6" fill="url(#g0)"/>
<rect x="29.75" y="226.30" width="158.95" height="187.00" fill="none" stroke="#333" stroke-width="1.2"/>
<rect x="188.70" y="226.30" width="47.90" height="187.00" fill="none" stroke="#333" stroke-width="1.2"/>
<circle cx="59.30" cy="250.60" r="2.9" fill="url(#g0)"/>
<text x="69.80" y="253.00" font-size="7.5" text-anchor="start" font-weight="bold" >350 K</text>
<circle cx="59.30" cy="259.75" r="2.9" fill="url(#g5)"/>
<text x="69.80" y="262.15" font-size="7.5" text-anchor="start" font-weight="bold" >450 K</text>
<circle cx="59.30" cy="268.90" r="2.9" fill="url(#g4)"/>
<text x="69.80" y="271.30" font-size="7.5" text-anchor="start" font-weight="bold" >550 K</text>
<circle cx="59.30" cy="278.05" r="2.9" fill="url(#g3)"/>
<text x="69.80" y="280.45" font-size="7.5" text-anchor="start" font-weight="bold" >650 K</text>
<circle cx="59.30" cy="287.20" r="2.9" fill="url(#g1)"/>
<text x="69.80" y="289.60" font-size="7.5" text-anchor="start" font-weight="bold" >750 K</text>
<circle cx="59.30" cy="296.35" r="2.9" fill="url(#g2)"/>
<text x="69.80" y="298.75" font-size="7.5" text-anchor="start" font-weight="bold" >850 K</text>
<line x1="92.80" y1="346.00" x2="109.50" y2="346.00" stroke="#222" stroke-width="1.5" />
<text x="112.00" y="348.40" font-size="7.45" text-anchor="start" font-weight="bold" >Fit the data of 350 K</text>
<line x1="92.80" y1="355.50" x2="109.50" y2="355.50" stroke="#e8505a" stroke-width="1.5" />
<text x="112.00" y="357.90" font-size="7.45" text-anchor="start" font-weight="bold" >Fit the data of 450 K</text>
<line x1="92.80" y1="365.00" x2="109.50" y2="365.00" stroke="#3050e0" stroke-width="1.5" />
<text x="112.00" y="367.40" font-size="7.45" text-anchor="start" font-weight="bold" >Fit the data of 550 K</text>
<line x1="92.80" y1="374.50" x2="109.50" y2="374.50" stroke="#40a040" stroke-width="1.5" />
<text x="112.00" y="376.90" font-size="7.45" text-anchor="start" font-weight="bold" >Fit the data of 650 K</text>
<line x1="92.80" y1="384.00" x2="109.50" y2="384.00" stroke="#8850b0" stroke-width="1.5" />
<text x="112.00" y="386.40" font-size="7.45" text-anchor="start" font-weight="bold" >Fit the data of 750 K</text>
<line x1="92.80" y1="393.50" x2="109.50" y2="393.50" stroke="#b8a860" stroke-width="1.5" />
<text x="112.00" y="395.90" font-size="7.45" text-anchor="start" font-weight="bold" >Fit the data of 850 K</text>
<text x="39.50" y="244.00" font-size="8.4" text-anchor="start" font-weight="bold" >(c)</text>
<text x="8.20" y="318.70" font-size="9.1" text-anchor="middle" font-weight="bold" transform="rotate(-90 8.20 318.70)">Pressure (GPa)</text>
<text x="107.60" y="436.20" font-size="9.3" text-anchor="middle" font-weight="bold">Wavelength of Y<tspan font-size="5.6" dy="2">2</tspan><tspan dy="-2"> line (nm)</tspan></text>
<text x="213.80" y="437.00" font-size="9.1" text-anchor="middle" font-weight="bold">ΔP (GPa)</text>
<line x1="282.60" y1="190.45" x2="284.40" y2="190.45" stroke="#333" stroke-width="0.9" />
<line x1="282.60" y1="178.10" x2="285.60" y2="178.10" stroke="#333" stroke-width="0.9" />
<line x1="517.80" y1="178.10" x2="514.80" y2="178.10" stroke="#333" stroke-width="0.9" />
<text x="278.30" y="180.70" font-size="7.7" text-anchor="end" font-weight="bold" >-4</text>
<line x1="282.60" y1="165.75" x2="284.40" y2="165.75" stroke="#333" stroke-width="0.9" />
<line x1="282.60" y1="153.40" x2="285.60" y2="153.40" stroke="#333" stroke-width="0.9" />
<line x1="517.80" y1="153.40" x2="514.80" y2="153.40" stroke="#333" stroke-width="0.9" />
<text x="278.30" y="156.00" font-size="7.7" text-anchor="end" font-weight="bold" >-3</text>
<line x1="282.60" y1="141.05" x2="284.40" y2="141.05" stroke="#333" stroke-width="0.9" />
<line x1="282.60" y1="128.70" x2="285.60" y2="128.70" stroke="#333" stroke-width="0.9" />
<line x1="517.80" y1="128.70" x2="514.80" y2="128.70" stroke="#333" stroke-width="0.9" />
<text x="278.30" y="131.30" font-size="7.7" text-anchor="end" font-weight="bold" >-2</text>
<line x1="282.60" y1="116.35" x2="284.40" y2="116.35" stroke="#333" stroke-width="0.9" />
<line x1="282.60" y1="104.00" x2="285.60" y2="104.00" stroke="#333" stroke-width="0.9" />
<line x1="517.80" y1="104.00" x2="514.80" y2="104.00" stroke="#333" stroke-width="0.9" />
<text x="278.30" y="106.60" font-size="7.7" text-anchor="end" font-weight="bold" >-1</text>
<line x1="282.60" y1="91.65" x2="284.40" y2="91.65" stroke="#333" stroke-width="0.9" />
<line x1="282.60" y1="79.30" x2="285.60" y2="79.30" stroke="#333" stroke-width="0.9" />
<line x1="517.80" y1="79.30" x2="514.80" y2="79.30" stroke="#333" stroke-width="0.9" />
<text x="278.30" y="81.90" font-size="7.7" text-anchor="end" font-weight="bold" >0</text>
<line x1="282.60" y1="66.95" x2="284.40" y2="66.95" stroke="#333" stroke-width="0.9" />
<line x1="282.60" y1="54.60" x2="285.60" y2="54.60" stroke="#333" stroke-width="0.9" />
<line x1="517.80" y1="54.60" x2="514.80" y2="54.60" stroke="#333" stroke-width="0.9" />
<text x="278.30" y="57.20" font-size="7.7" text-anchor="end" font-weight="bold" >1</text>
<line x1="282.60" y1="42.25" x2="284.40" y2="42.25" stroke="#333" stroke-width="0.9" />
<line x1="282.60" y1="29.90" x2="285.60" y2="29.90" stroke="#333" stroke-width="0.9" />
<line x1="517.80" y1="29.90" x2="514.80" y2="29.90" stroke="#333" stroke-width="0.9" />
<text x="278.30" y="32.50" font-size="7.7" text-anchor="end" font-weight="bold" >2</text>
<line x1="282.60" y1="17.55" x2="284.40" y2="17.55" stroke="#333" stroke-width="0.9" />
<line x1="282.60" y1="5.20" x2="285.60" y2="5.20" stroke="#333" stroke-width="0.9" />
<line x1="517.80" y1="5.20" x2="514.80" y2="5.20" stroke="#333" stroke-width="0.9" />
<text x="278.30" y="7.80" font-size="7.7" text-anchor="end" font-weight="bold" >3</text>
<line x1="286.20" y1="190.30" x2="286.20" y2="187.30" stroke="#333" stroke-width="0.9" />
<line x1="286.20" y1="5.30" x2="286.20" y2="8.30" stroke="#333" stroke-width="0.9" />
<text x="286.20" y="200.40" font-size="7.7" text-anchor="middle" font-weight="bold" >0</text>
<line x1="304.88" y1="190.30" x2="304.88" y2="188.50" stroke="#333" stroke-width="0.9" />
<line x1="323.55" y1="190.30" x2="323.55" y2="187.30" stroke="#333" stroke-width="0.9" />
<line x1="323.55" y1="5.30" x2="323.55" y2="8.30" stroke="#333" stroke-width="0.9" />
<text x="323.55" y="200.40" font-size="7.7" text-anchor="middle" font-weight="bold" >10</text>
<line x1="342.22" y1="190.30" x2="342.22" y2="188.50" stroke="#333" stroke-width="0.9" />
<line x1="360.90" y1="190.30" x2="360.90" y2="187.30" stroke="#333" stroke-width="0.9" />
<line x1="360.90" y1="5.30" x2="360.90" y2="8.30" stroke="#333" stroke-width="0.9" />
<text x="360.90" y="200.40" font-size="7.7" text-anchor="middle" font-weight="bold" >20</text>
<line x1="379.57" y1="190.30" x2="379.57" y2="188.50" stroke="#333" stroke-width="0.9" />
<line x1="398.25" y1="190.30" x2="398.25" y2="187.30" stroke="#333" stroke-width="0.9" />
<line x1="398.25" y1="5.30" x2="398.25" y2="8.30" stroke="#333" stroke-width="0.9" />
<text x="398.25" y="200.40" font-size="7.7" text-anchor="middle" font-weight="bold" >30</text>
<line x1="416.92" y1="190.30" x2="416.92" y2="188.50" stroke="#333" stroke-width="0.9" />
<line x1="435.60" y1="190.30" x2="435.60" y2="187.30" stroke="#333" stroke-width="0.9" />
<line x1="435.60" y1="5.30" x2="435.60" y2="8.30" stroke="#333" stroke-width="0.9" />
<text x="435.60" y="200.40" font-size="7.7" text-anchor="middle" font-weight="bold" >40</text>
<line x1="454.27" y1="190.30" x2="454.27" y2="188.50" stroke="#333" stroke-width="0.9" />
<line x1="472.95" y1="190.30" x2="472.95" y2="187.30" stroke="#333" stroke-width="0.9" />
<line x1="472.95" y1="5.30" x2="472.95" y2="8.30" stroke="#333" stroke-width="0.9" />
<text x="472.95" y="200.40" font-size="7.7" text-anchor="middle" font-weight="bold" >50</text>
<line x1="491.62" y1="190.30" x2="491.62" y2="188.50" stroke="#333" stroke-width="0.9" />
<line x1="510.30" y1="190.30" x2="510.30" y2="187.30" stroke="#333" stroke-width="0.9" />
<line x1="510.30" y1="5.30" x2="510.30" y2="8.30" stroke="#333" stroke-width="0.9" />
<text x="510.30" y="200.40" font-size="7.7" text-anchor="middle" font-weight="bold" >60</text>
<line x1="282.60" y1="79.30" x2="517.80" y2="79.30" stroke="#222" stroke-width="1.2" stroke-dasharray="1.8 1.95"/>
<polygon points="320.50,56.12 323.45,61.25 317.55,61.25" fill="#f3e51e"/>
<polygon points="335.90,58.82 338.85,63.95 332.95,63.95" fill="#f3e51e"/>
<polygon points="322.80,68.32 325.75,73.45 319.85,73.45" fill="#f3e51e"/>
<polygon points="285.40,75.82 288.35,80.95 282.45,80.95" fill="#f3e51e"/>
<polygon points="311.30,78.32 314.25,83.45 308.35,83.45" fill="#f3e51e"/>
<polygon points="306.50,86.02 309.45,91.15 303.55,91.15" fill="#f3e51e"/>
<polygon points="324.90,89.42 327.85,94.55 321.95,94.55" fill="#f3e51e"/>
<polygon points="329.60,89.42 332.55,94.55 326.65,94.55" fill="#f3e51e"/>
<polygon points="299.00,95.52 301.95,100.65 296.05,100.65" fill="#f3e51e"/>
<polygon points="339.10,92.82 342.05,97.95 336.15,97.95" fill="#f3e51e"/>
<polygon points="370.40,52.02 373.35,57.15 367.45,57.15" fill="#f3e51e"/>
<polygon points="394.50,54.72 397.45,59.85 391.55,59.85" fill="#f3e51e"/>
<polygon points="347.30,66.32 350.25,71.45 344.35,71.45" fill="#f3e51e"/>
<polygon points="379.90,72.42 382.85,77.55 376.95,77.55" fill="#f3e51e"/>
<polygon points="348.20,78.32 351.15,83.45 345.25,83.45" fill="#f3e51e"/>
<polygon points="358.40,82.62 361.35,87.75 355.45,87.75" fill="#f3e51e"/>
<polygon points="349.60,93.52 352.55,98.65 346.65,98.65" fill="#f3e51e"/>
<polygon points="402.20,60.82 405.15,65.95 399.25,65.95" fill="#f3e51e"/>
<polygon points="404.90,67.02 407.85,72.15 401.95,72.15" fill="#f3e51e"/>
<polygon points="407.30,70.42 410.25,75.55 404.35,75.55" fill="#f3e51e"/>
<polygon points="440.00,65.62 442.95,70.75 437.05,70.75" fill="#f3e51e"/>
<polygon points="434.10,72.42 437.05,77.55 431.15,77.55" fill="#f3e51e"/>
<polygon points="415.80,84.02 418.75,89.15 412.85,89.15" fill="#f3e51e"/>
<polygon points="416.90,90.82 419.85,95.95 413.95,95.95" fill="#f3e51e"/>
<polygon points="426.00,93.52 428.95,98.65 423.05,98.65" fill="#f3e51e"/>
<polygon points="429.60,98.92 432.55,104.05 426.65,104.05" fill="#f3e51e"/>
<polygon points="445.70,81.92 448.65,87.05 442.75,87.05" fill="#f3e51e"/>
<polygon points="450.50,82.32 453.45,87.45 447.55,87.45" fill="#f3e51e"/>
<polygon points="505.10,42.92 508.05,48.05 502.15,48.05" fill="#f3e51e"/>
<polygon points="455.40,64.22 458.35,69.35 452.45,69.35" fill="#f3e51e"/>
<polygon points="489.50,64.92 492.45,70.05 486.55,70.05" fill="#f3e51e"/>
<polygon points="492.20,73.82 495.15,78.95 489.25,78.95" fill="#f3e51e"/>
<polygon points="497.60,79.92 500.55,85.05 494.65,85.05" fill="#f3e51e"/>
<polygon points="452.00,83.32 454.95,88.45 449.05,88.45" fill="#f3e51e"/>
<polygon points="463.60,81.32 466.55,86.45 460.65,86.45" fill="#f3e51e"/>
<polygon points="471.10,91.52 474.05,96.65 468.15,96.65" fill="#f3e51e"/>
<polygon points="465.00,99.62 467.95,104.75 462.05,104.75" fill="#f3e51e"/>
<circle cx="314.70" cy="77.00" r="2.2" fill="#fff" stroke="#acd462" stroke-width="1.0"/>
<circle cx="317.40" cy="82.80" r="2.2" fill="#fff" stroke="#acd462" stroke-width="1.0"/>
<circle cx="331.00" cy="80.10" r="2.2" fill="#fff" stroke="#acd462" stroke-width="1.0"/>
<circle cx="337.10" cy="87.20" r="2.2" fill="#fff" stroke="#acd462" stroke-width="1.0"/>
<circle cx="345.50" cy="85.10" r="2.2" fill="#fff" stroke="#acd462" stroke-width="1.0"/>
<circle cx="367.30" cy="85.80" r="2.2" fill="#fff" stroke="#acd462" stroke-width="1.0"/>
<circle cx="376.10" cy="80.60" r="2.2" fill="#fff" stroke="#acd462" stroke-width="1.0"/>
<circle cx="381.30" cy="82.00" r="2.2" fill="#fff" stroke="#acd462" stroke-width="1.0"/>
<circle cx="384.90" cy="89.20" r="2.2" fill="#fff" stroke="#acd462" stroke-width="1.0"/>
<circle cx="387.30" cy="92.60" r="2.2" fill="#fff" stroke="#acd462" stroke-width="1.0"/>
<circle cx="389.00" cy="75.60" r="2.2" fill="#fff" stroke="#acd462" stroke-width="1.0"/>
<circle cx="478.60" cy="62.00" r="2.2" fill="#fff" stroke="#acd462" stroke-width="1.0"/>
<circle cx="460.20" cy="70.20" r="2.2" fill="#fff" stroke="#acd462" stroke-width="1.0"/>
<circle cx="467.70" cy="72.90" r="2.2" fill="#fff" stroke="#acd462" stroke-width="1.0"/>
<circle cx="482.70" cy="83.80" r="2.2" fill="#fff" stroke="#acd462" stroke-width="1.0"/>
<circle cx="318.50" cy="100.80" r="2.2" fill="#fff" stroke="#23918b" stroke-width="1.0"/>
<circle cx="333.40" cy="99.40" r="2.2" fill="#fff" stroke="#23918b" stroke-width="1.0"/>
<circle cx="334.40" cy="103.50" r="2.6" fill="url(#g6)"/>
<circle cx="390.40" cy="66.80" r="2.2" fill="#fff" stroke="#33648e" stroke-width="1.0"/>
<circle cx="391.10" cy="72.90" r="2.6" fill="url(#g6)"/>
<circle cx="378.10" cy="92.30" r="2.2" fill="#fff" stroke="#23918b" stroke-width="1.0"/>
<circle cx="378.10" cy="96.70" r="2.6" fill="url(#g6)"/>
<circle cx="382.90" cy="97.40" r="2.2" fill="#fff" stroke="#23918b" stroke-width="1.0"/>
<circle cx="384.30" cy="100.10" r="2.2" fill="#fff" stroke="#23918b" stroke-width="1.0"/>
<circle cx="357.70" cy="98.10" r="2.2" fill="#fff" stroke="#23918b" stroke-width="1.0"/>
<circle cx="357.70" cy="102.80" r="2.6" fill="url(#g6)"/>
<circle cx="386.30" cy="102.10" r="2.2" fill="#fff" stroke="#23918b" stroke-width="1.0"/>
<circle cx="432.10" cy="87.90" r="2.2" fill="#fff" stroke="#3cb77c" stroke-width="1.0"/>
<circle cx="434.80" cy="89.90" r="2.2" fill="#fff" stroke="#23918b" stroke-width="1.0"/>
<circle cx="433.50" cy="92.60" r="2.6" fill="url(#g6)"/>
<circle cx="440.30" cy="88.30" r="2.2" fill="#fff" stroke="#3e3f88" stroke-width="1.0"/>
<circle cx="440.30" cy="95.30" r="2.6" fill="url(#g7)"/>
<circle cx="441.60" cy="102.80" r="2.2" fill="#fff" stroke="#33648e" stroke-width="1.0"/>
<circle cx="445.70" cy="103.50" r="2.2" fill="#fff" stroke="#23918b" stroke-width="1.0"/>
<circle cx="483.30" cy="53.80" r="2.2" fill="#fff" stroke="#33648e" stroke-width="1.0"/>
<circle cx="483.30" cy="57.90" r="2.6" fill="url(#g6)"/>
<circle cx="478.90" cy="76.00" r="2.6" fill="url(#g8)"/>
<circle cx="487.40" cy="74.30" r="2.2" fill="#fff" stroke="#33648e" stroke-width="1.0"/>
<circle cx="486.10" cy="77.00" r="2.2" fill="#fff" stroke="#33648e" stroke-width="1.0"/>
<circle cx="456.50" cy="80.10" r="2.2" fill="#fff" stroke="#33648e" stroke-width="1.0"/>
<circle cx="456.50" cy="83.80" r="2.6" fill="url(#g9)"/>
<circle cx="474.20" cy="81.00" r="2.2" fill="#fff" stroke="#23918b" stroke-width="1.0"/>
<circle cx="474.20" cy="85.10" r="2.6" fill="url(#g6)"/>
<circle cx="486.70" cy="82.40" r="2.6" fill="url(#g7)"/>
<circle cx="482.70" cy="89.20" r="2.6" fill="url(#g7)"/>
<circle cx="494.20" cy="103.50" r="2.2" fill="#fff" stroke="#3cb77c" stroke-width="1.0"/>
<circle cx="318.50" cy="104.80" r="2.6" fill="url(#g6)"/>
<circle cx="322.10" cy="110.20" r="2.2" fill="#fff" stroke="#23918b" stroke-width="1.0"/>
<circle cx="325.30" cy="108.80" r="2.2" fill="#fff" stroke="#23918b" stroke-width="1.0"/>
<circle cx="321.50" cy="113.60" r="2.6" fill="url(#g6)"/>
<circle cx="325.30" cy="112.90" r="2.6" fill="url(#g6)"/>
<circle cx="328.00" cy="117.70" r="2.2" fill="#fff" stroke="#3e3f88" stroke-width="1.0"/>
<circle cx="324.20" cy="125.90" r="2.2" fill="#fff" stroke="#3e3f88" stroke-width="1.0"/>
<circle cx="328.30" cy="125.20" r="2.6" fill="url(#g7)"/>
<circle cx="324.20" cy="132.70" r="2.6" fill="url(#g7)"/>
<circle cx="326.20" cy="134.70" r="2.2" fill="#fff" stroke="#3e3f88" stroke-width="1.0"/>
<circle cx="326.20" cy="142.90" r="2.6" fill="url(#g7)"/>
<circle cx="335.10" cy="127.90" r="2.2" fill="#fff" stroke="#3e3f88" stroke-width="1.0"/>
<circle cx="335.10" cy="135.60" r="2.6" fill="url(#g7)"/>
<circle cx="335.10" cy="149.30" r="2.2" fill="#fff" stroke="#3e3f88" stroke-width="1.0"/>
<circle cx="335.10" cy="158.50" r="2.6" fill="url(#g10)"/>
<circle cx="333.70" cy="105.40" r="2.6" fill="url(#g6)"/>
<circle cx="338.90" cy="116.30" r="2.2" fill="#fff" stroke="#33648e" stroke-width="1.0"/>
<circle cx="338.50" cy="121.80" r="2.6" fill="url(#g9)"/>
<circle cx="341.90" cy="130.00" r="2.2" fill="#fff" stroke="#3e3f88" stroke-width="1.0"/>
<circle cx="341.90" cy="138.00" r="2.6" fill="url(#g7)"/>
<circle cx="340.50" cy="106.80" r="2.2" fill="#fff" stroke="#23918b" stroke-width="1.0"/>
<circle cx="343.20" cy="106.10" r="2.2" fill="#fff" stroke="#23918b" stroke-width="1.0"/>
<circle cx="343.20" cy="110.90" r="2.6" fill="url(#g6)"/>
<circle cx="348.20" cy="123.80" r="2.2" fill="#fff" stroke="#3e3f88" stroke-width="1.0"/>
<circle cx="343.20" cy="130.60" r="2.2" fill="#fff" stroke="#3e3f88" stroke-width="1.0"/>
<circle cx="348.20" cy="130.60" r="2.2" fill="#fff" stroke="#3e3f88" stroke-width="1.0"/>
<circle cx="343.20" cy="137.80" r="2.6" fill="url(#g7)"/>
<circle cx="348.20" cy="138.50" r="2.6" fill="url(#g7)"/>
<circle cx="355.00" cy="112.50" r="2.2" fill="#fff" stroke="#3cb77c" stroke-width="1.0"/>
<circle cx="355.00" cy="115.00" r="2.6" fill="url(#g8)"/>
<circle cx="359.80" cy="116.00" r="2.2" fill="#fff" stroke="#3cb77c" stroke-width="1.0"/>
<circle cx="360.40" cy="119.00" r="2.6" fill="url(#g8)"/>
<circle cx="365.90" cy="117.00" r="2.2" fill="#fff" stroke="#23918b" stroke-width="1.0"/>
<circle cx="365.90" cy="121.10" r="2.6" fill="url(#g6)"/>
<circle cx="362.50" cy="124.50" r="2.2" fill="#fff" stroke="#33648e" stroke-width="1.0"/>
<circle cx="361.80" cy="129.70" r="2.6" fill="url(#g9)"/>
<circle cx="376.10" cy="125.90" r="2.2" fill="#fff" stroke="#3e3f88" stroke-width="1.0"/>
<circle cx="370.70" cy="131.30" r="2.2" fill="#fff" stroke="#3e3f88" stroke-width="1.0"/>
<circle cx="376.10" cy="133.30" r="2.6" fill="url(#g7)"/>
<circle cx="381.30" cy="130.60" r="2.2" fill="#fff" stroke="#3e3f88" stroke-width="1.0"/>
<circle cx="370.70" cy="139.20" r="2.6" fill="url(#g7)"/>
<circle cx="374.70" cy="137.40" r="2.6" fill="url(#g7)"/>
<circle cx="381.50" cy="138.80" r="2.6" fill="url(#g7)"/>
<circle cx="380.20" cy="115.00" r="2.2" fill="#fff" stroke="#3cb77c" stroke-width="1.0"/>
<circle cx="383.60" cy="114.30" r="2.2" fill="#fff" stroke="#3cb77c" stroke-width="1.0"/>
<circle cx="381.50" cy="119.00" r="2.6" fill="url(#g8)"/>
<circle cx="387.70" cy="117.70" r="2.2" fill="#fff" stroke="#23918b" stroke-width="1.0"/>
<circle cx="386.30" cy="125.90" r="2.2" fill="#fff" stroke="#23918b" stroke-width="1.0"/>
<circle cx="386.30" cy="132.00" r="2.6" fill="url(#g6)"/>
<circle cx="392.40" cy="106.80" r="2.2" fill="#fff" stroke="#3e3f88" stroke-width="1.0"/>
<circle cx="392.40" cy="114.30" r="2.6" fill="url(#g7)"/>
<circle cx="381.50" cy="102.70" r="2.2" fill="#fff" stroke="#23918b" stroke-width="1.0"/>
<circle cx="386.30" cy="106.10" r="2.6" fill="url(#g6)"/>
<circle cx="359.10" cy="152.40" r="2.2" fill="#fff" stroke="#3e3f88" stroke-width="1.0"/>
<circle cx="359.10" cy="161.80" r="2.6" fill="url(#g10)"/>
<circle cx="344.80" cy="158.60" r="2.2" fill="#fff" stroke="#3e3f88" stroke-width="1.0"/>
<circle cx="344.80" cy="168.10" r="2.6" fill="url(#g10)"/>
<circle cx="394.70" cy="151.70" r="2.2" fill="#fff" stroke="#3e3f88" stroke-width="1.0"/>
<circle cx="394.70" cy="160.20" r="2.6" fill="url(#g10)"/>
<circle cx="399.40" cy="106.10" r="2.2" fill="#fff" stroke="#23918b" stroke-width="1.0"/>
<circle cx="399.40" cy="110.90" r="2.6" fill="url(#g6)"/>
<circle cx="401.90" cy="118.80" r="2.2" fill="#fff" stroke="#3cb77c" stroke-width="1.0"/>
<circle cx="401.90" cy="121.30" r="2.6" fill="url(#g8)"/>
<circle cx="411.70" cy="116.30" r="2.2" fill="#fff" stroke="#3e3f88" stroke-width="1.0"/>
<circle cx="412.40" cy="123.80" r="2.6" fill="url(#g7)"/>
<circle cx="416.40" cy="114.30" r="2.2" fill="#fff" stroke="#23918b" stroke-width="1.0"/>
<circle cx="416.40" cy="118.40" r="2.6" fill="url(#g6)"/>
<circle cx="419.90" cy="117.70" r="2.2" fill="#fff" stroke="#23918b" stroke-width="1.0"/>
<circle cx="419.20" cy="123.80" r="2.6" fill="url(#g6)"/>
<circle cx="422.80" cy="120.40" r="2.2" fill="#fff" stroke="#33648e" stroke-width="1.0"/>
<circle cx="422.60" cy="125.90" r="2.6" fill="url(#g9)"/>
<circle cx="430.50" cy="124.50" r="2.2" fill="#fff" stroke="#33648e" stroke-width="1.0"/>
<circle cx="430.50" cy="130.60" r="2.6" fill="url(#g9)"/>
<circle cx="442.30" cy="103.00" r="2.2" fill="#fff" stroke="#23918b" stroke-width="1.0"/>
<circle cx="445.70" cy="105.40" r="2.2" fill="#fff" stroke="#23918b" stroke-width="1.0"/>
<circle cx="442.30" cy="109.50" r="2.6" fill="url(#g6)"/>
<circle cx="445.70" cy="109.50" r="2.6" fill="url(#g6)"/>
<circle cx="450.50" cy="128.60" r="2.2" fill="#fff" stroke="#33648e" stroke-width="1.0"/>
<circle cx="450.50" cy="134.00" r="2.6" fill="url(#g9)"/>
<circle cx="401.90" cy="139.50" r="2.2" fill="#fff" stroke="#3e3f88" stroke-width="1.0"/>
<circle cx="401.90" cy="147.90" r="2.6" fill="url(#g10)"/>
<circle cx="460.20" cy="113.60" r="2.2" fill="#fff" stroke="#3cb77c" stroke-width="1.0"/>
<circle cx="460.20" cy="116.00" r="2.6" fill="url(#g8)"/>
<circle cx="475.20" cy="109.80" r="2.2" fill="#fff" stroke="#33648e" stroke-width="1.0"/>
<circle cx="475.20" cy="115.60" r="2.6" fill="url(#g7)"/>
<circle cx="494.20" cy="104.10" r="2.2" fill="#fff" stroke="#3cb77c" stroke-width="1.0"/>
<circle cx="494.20" cy="106.50" r="2.6" fill="url(#g8)"/>
<circle cx="445.90" cy="176.60" r="2.2" fill="#fff" stroke="#3e3f88" stroke-width="1.0"/>
<circle cx="445.90" cy="185.80" r="2.6" fill="url(#g10)"/>
<rect x="282.60" y="5.30" width="235.20" height="185.00" fill="none" stroke="#333" stroke-width="1.2"/>
<rect x="335.70" y="10.90" width="169.50" height="7.30" fill="url(#viridis)" stroke="#333" stroke-width="0.7"/>
<line x1="352.50" y1="18.20" x2="352.50" y2="20.40" stroke="#333" stroke-width="0.8" />
<text x="352.50" y="27.50" font-size="5.7" text-anchor="middle" font-weight="bold" >350</text>
<line x1="382.92" y1="18.20" x2="382.92" y2="20.40" stroke="#333" stroke-width="0.8" />
<text x="382.92" y="27.50" font-size="5.7" text-anchor="middle" font-weight="bold" >450</text>
<line x1="413.34" y1="18.20" x2="413.34" y2="20.40" stroke="#333" stroke-width="0.8" />
<text x="413.34" y="27.50" font-size="5.7" text-anchor="middle" font-weight="bold" >550</text>
<line x1="443.76" y1="18.20" x2="443.76" y2="20.40" stroke="#333" stroke-width="0.8" />
<text x="443.76" y="27.50" font-size="5.7" text-anchor="middle" font-weight="bold" >650</text>
<line x1="474.18" y1="18.20" x2="474.18" y2="20.40" stroke="#333" stroke-width="0.8" />
<text x="474.18" y="27.50" font-size="5.7" text-anchor="middle" font-weight="bold" >750</text>
<line x1="504.60" y1="18.20" x2="504.60" y2="20.40" stroke="#333" stroke-width="0.8" />
<text x="504.60" y="27.50" font-size="5.7" text-anchor="middle" font-weight="bold" >850</text>
<text x="427.70" y="36.00" font-size="5.5" text-anchor="middle" font-weight="bold" >Temperature (K)</text>
<text x="294.70" y="22.00" font-size="8.4" text-anchor="start" font-weight="bold" >(b)</text>
<text x="266.80" y="98.00" font-size="8.3" text-anchor="middle" font-weight="bold" transform="rotate(-90 266.80 98.00)">ΔP (GPa)</text>
<text x="400.70" y="211.50" font-size="8.55" text-anchor="middle" font-weight="bold" >Pressure (GPa)</text>
<line x1="281.50" y1="413.50" x2="284.50" y2="413.50" stroke="#333" stroke-width="0.9" />
<line x1="517.40" y1="413.50" x2="514.40" y2="413.50" stroke="#333" stroke-width="0.9" />
<text x="277.20" y="415.40" font-size="7.7" text-anchor="end" font-weight="bold" >-5</text>
<line x1="281.50" y1="400.95" x2="283.30" y2="400.95" stroke="#333" stroke-width="0.9" />
<line x1="281.50" y1="388.40" x2="284.50" y2="388.40" stroke="#333" stroke-width="0.9" />
<line x1="517.40" y1="388.40" x2="514.40" y2="388.40" stroke="#333" stroke-width="0.9" />
<text x="277.20" y="390.30" font-size="7.7" text-anchor="end" font-weight="bold" >-4</text>
<line x1="281.50" y1="375.85" x2="283.30" y2="375.85" stroke="#333" stroke-width="0.9" />
<line x1="281.50" y1="363.30" x2="284.50" y2="363.30" stroke="#333" stroke-width="0.9" />
<line x1="517.40" y1="363.30" x2="514.40" y2="363.30" stroke="#333" stroke-width="0.9" />
<text x="277.20" y="365.20" font-size="7.7" text-anchor="end" font-weight="bold" >-3</text>
<line x1="281.50" y1="350.75" x2="283.30" y2="350.75" stroke="#333" stroke-width="0.9" />
<line x1="281.50" y1="338.20" x2="284.50" y2="338.20" stroke="#333" stroke-width="0.9" />
<line x1="517.40" y1="338.20" x2="514.40" y2="338.20" stroke="#333" stroke-width="0.9" />
<text x="277.20" y="340.10" font-size="7.7" text-anchor="end" font-weight="bold" >-2</text>
<line x1="281.50" y1="325.65" x2="283.30" y2="325.65" stroke="#333" stroke-width="0.9" />
<line x1="281.50" y1="313.10" x2="284.50" y2="313.10" stroke="#333" stroke-width="0.9" />
<line x1="517.40" y1="313.10" x2="514.40" y2="313.10" stroke="#333" stroke-width="0.9" />
<text x="277.20" y="315.00" font-size="7.7" text-anchor="end" font-weight="bold" >-1</text>
<line x1="281.50" y1="300.55" x2="283.30" y2="300.55" stroke="#333" stroke-width="0.9" />
<line x1="281.50" y1="288.00" x2="284.50" y2="288.00" stroke="#333" stroke-width="0.9" />
<line x1="517.40" y1="288.00" x2="514.40" y2="288.00" stroke="#333" stroke-width="0.9" />
<text x="277.20" y="289.90" font-size="7.7" text-anchor="end" font-weight="bold" >0</text>
<line x1="281.50" y1="275.45" x2="283.30" y2="275.45" stroke="#333" stroke-width="0.9" />
<line x1="281.50" y1="262.90" x2="284.50" y2="262.90" stroke="#333" stroke-width="0.9" />
<line x1="517.40" y1="262.90" x2="514.40" y2="262.90" stroke="#333" stroke-width="0.9" />
<text x="277.20" y="264.80" font-size="7.7" text-anchor="end" font-weight="bold" >1</text>
<line x1="281.50" y1="250.35" x2="283.30" y2="250.35" stroke="#333" stroke-width="0.9" />
<line x1="281.50" y1="237.80" x2="284.50" y2="237.80" stroke="#333" stroke-width="0.9" />
<line x1="517.40" y1="237.80" x2="514.40" y2="237.80" stroke="#333" stroke-width="0.9" />
<text x="277.20" y="239.70" font-size="7.7" text-anchor="end" font-weight="bold" >2</text>
<line x1="281.50" y1="225.25" x2="283.30" y2="225.25" stroke="#333" stroke-width="0.9" />
<line x1="285.30" y1="413.40" x2="285.30" y2="410.40" stroke="#333" stroke-width="0.9" />
<line x1="285.30" y1="225.20" x2="285.30" y2="228.20" stroke="#333" stroke-width="0.9" />
<text x="285.30" y="423.40" font-size="7.7" text-anchor="middle" font-weight="bold" >0</text>
<line x1="304.06" y1="413.40" x2="304.06" y2="411.60" stroke="#333" stroke-width="0.9" />
<line x1="322.82" y1="413.40" x2="322.82" y2="410.40" stroke="#333" stroke-width="0.9" />
<line x1="322.82" y1="225.20" x2="322.82" y2="228.20" stroke="#333" stroke-width="0.9" />
<text x="322.82" y="423.40" font-size="7.7" text-anchor="middle" font-weight="bold" >10</text>
<line x1="341.58" y1="413.40" x2="341.58" y2="411.60" stroke="#333" stroke-width="0.9" />
<line x1="360.34" y1="413.40" x2="360.34" y2="410.40" stroke="#333" stroke-width="0.9" />
<line x1="360.34" y1="225.20" x2="360.34" y2="228.20" stroke="#333" stroke-width="0.9" />
<text x="360.34" y="423.40" font-size="7.7" text-anchor="middle" font-weight="bold" >20</text>
<line x1="379.10" y1="413.40" x2="379.10" y2="411.60" stroke="#333" stroke-width="0.9" />
<line x1="397.86" y1="413.40" x2="397.86" y2="410.40" stroke="#333" stroke-width="0.9" />
<line x1="397.86" y1="225.20" x2="397.86" y2="228.20" stroke="#333" stroke-width="0.9" />
<text x="397.86" y="423.40" font-size="7.7" text-anchor="middle" font-weight="bold" >30</text>
<line x1="416.62" y1="413.40" x2="416.62" y2="411.60" stroke="#333" stroke-width="0.9" />
<line x1="435.38" y1="413.40" x2="435.38" y2="410.40" stroke="#333" stroke-width="0.9" />
<line x1="435.38" y1="225.20" x2="435.38" y2="228.20" stroke="#333" stroke-width="0.9" />
<text x="435.38" y="423.40" font-size="7.7" text-anchor="middle" font-weight="bold" >40</text>
<line x1="454.14" y1="413.40" x2="454.14" y2="411.60" stroke="#333" stroke-width="0.9" />
<line x1="472.90" y1="413.40" x2="472.90" y2="410.40" stroke="#333" stroke-width="0.9" />
<line x1="472.90" y1="225.20" x2="472.90" y2="228.20" stroke="#333" stroke-width="0.9" />
<text x="472.90" y="423.40" font-size="7.7" text-anchor="middle" font-weight="bold" >50</text>
<line x1="491.66" y1="413.40" x2="491.66" y2="411.60" stroke="#333" stroke-width="0.9" />
<line x1="510.42" y1="413.40" x2="510.42" y2="410.40" stroke="#333" stroke-width="0.9" />
<line x1="510.42" y1="225.20" x2="510.42" y2="228.20" stroke="#333" stroke-width="0.9" />
<text x="510.42" y="423.40" font-size="7.7" text-anchor="middle" font-weight="bold" >60</text>
<line x1="281.50" y1="288.00" x2="517.40" y2="288.00" stroke="#222" stroke-width="1.2" stroke-dasharray="1.8 1.95"/>
<polygon points="285.40,284.22 288.35,289.35 282.45,289.35" fill="#f3e51e"/>
<polygon points="305.80,283.32 308.75,288.45 302.85,288.45" fill="#f3e51e"/>
<polygon points="310.60,273.32 313.55,278.45 307.65,278.45" fill="#f3e51e"/>
<polygon points="318.70,273.32 321.65,278.45 315.75,278.45" fill="#f3e51e"/>
<polygon points="322.10,282.42 325.05,287.55 319.15,287.55" fill="#f3e51e"/>
<polygon points="334.40,262.92 337.35,268.05 331.45,268.05" fill="#f3e51e"/>
<polygon points="298.10,294.12 301.05,299.25 295.15,299.25" fill="#f3e51e"/>
<polygon points="337.50,289.22 340.45,294.35 334.55,294.35" fill="#f3e51e"/>
<polygon points="324.20,298.52 327.15,303.65 321.25,303.65" fill="#f3e51e"/>
<polygon points="346.80,269.22 349.75,274.35 343.85,274.35" fill="#f3e51e"/>
<polygon points="346.80,273.32 349.75,278.45 343.85,278.45" fill="#f3e51e"/>
<polygon points="370.00,279.52 372.95,284.65 367.05,284.65" fill="#f3e51e"/>
<polygon points="379.50,277.42 382.45,282.55 376.55,282.55" fill="#f3e51e"/>
<polygon points="393.80,280.12 396.75,285.25 390.85,285.25" fill="#f3e51e"/>
<polygon points="397.20,268.62 400.15,273.75 394.25,273.75" fill="#f3e51e"/>
<polygon points="348.20,285.62 351.15,290.75 345.25,290.75" fill="#f3e51e"/>
<polygon points="357.70,288.32 360.65,293.45 354.75,293.45" fill="#f3e51e"/>
<polygon points="382.90,288.32 385.85,293.45 379.95,293.45" fill="#f3e51e"/>
<polygon points="401.90,266.52 404.85,271.65 398.95,271.65" fill="#f3e51e"/>
<polygon points="404.20,273.32 407.15,278.45 401.25,278.45" fill="#f3e51e"/>
<polygon points="406.90,277.42 409.85,282.55 403.95,282.55" fill="#f3e51e"/>
<polygon points="434.10,281.92 437.05,287.05 431.15,287.05" fill="#f3e51e"/>
<polygon points="439.60,279.22 442.55,284.35 436.65,284.35" fill="#f3e51e"/>
<polygon points="415.10,287.32 418.05,292.45 412.15,292.45" fill="#f3e51e"/>
<polygon points="426.00,288.32 428.95,293.45 423.05,293.45" fill="#f3e51e"/>
<polygon points="417.10,294.72 420.05,299.85 414.15,299.85" fill="#f3e51e"/>
<polygon points="445.70,294.12 448.65,299.25 442.75,299.25" fill="#f3e51e"/>
<polygon points="451.80,298.52 454.75,303.65 448.85,303.65" fill="#f3e51e"/>
<polygon points="481.00,263.82 483.95,268.95 478.05,268.95" fill="#f3e51e"/>
<polygon points="489.20,263.82 492.15,268.95 486.25,268.95" fill="#f3e51e"/>
<polygon points="492.20,272.72 495.15,277.85 489.25,277.85" fill="#f3e51e"/>
<polygon points="456.10,283.32 459.05,288.45 453.15,288.45" fill="#f3e51e"/>
<polygon points="482.00,283.82 484.95,288.95 479.05,288.95" fill="#f3e51e"/>
<polygon points="469.00,291.02 471.95,296.15 466.05,296.15" fill="#f3e51e"/>
<polygon points="460.90,296.52 463.85,301.65 457.95,301.65" fill="#f3e51e"/>
<polygon points="464.30,298.52 467.25,303.65 461.35,303.65" fill="#f3e51e"/>
<polygon points="498.30,302.62 501.25,307.75 495.35,307.75" fill="#f3e51e"/>
<polygon points="505.10,313.12 508.05,318.25 502.15,318.25" fill="#f3e51e"/>
<polygon points="463.60,311.12 466.55,316.25 460.65,316.25" fill="#f3e51e"/>
<polygon points="471.10,309.72 474.05,314.85 468.15,314.85" fill="#f3e51e"/>
<polygon points="428.70,311.82 431.65,316.95 425.75,316.95" fill="#f3e51e"/>
<circle cx="316.00" cy="284.70" r="2.2" fill="#fff" stroke="#acd462" stroke-width="1.0"/>
<circle cx="329.90" cy="300.60" r="2.2" fill="#fff" stroke="#acd462" stroke-width="1.0"/>
<circle cx="344.50" cy="307.10" r="2.2" fill="#fff" stroke="#acd462" stroke-width="1.0"/>
<circle cx="478.60" cy="273.10" r="2.2" fill="#fff" stroke="#acd462" stroke-width="1.0"/>
<circle cx="459.80" cy="293.50" r="2.2" fill="#fff" stroke="#acd462" stroke-width="1.0"/>
<circle cx="467.70" cy="305.10" r="2.2" fill="#fff" stroke="#acd462" stroke-width="1.0"/>
<circle cx="336.10" cy="308.80" r="2.2" fill="#fff" stroke="#acd462" stroke-width="1.0"/>
<circle cx="366.80" cy="313.60" r="2.2" fill="#fff" stroke="#acd462" stroke-width="1.0"/>
<circle cx="375.80" cy="317.70" r="2.2" fill="#fff" stroke="#acd462" stroke-width="1.0"/>
<circle cx="483.30" cy="271.50" r="2.2" fill="#fff" stroke="#23918b" stroke-width="1.0"/>
<circle cx="483.30" cy="274.20" r="2.6" fill="url(#g6)"/>
<circle cx="473.80" cy="298.30" r="2.2" fill="#fff" stroke="#23918b" stroke-width="1.0"/>
<circle cx="473.80" cy="301.40" r="2.6" fill="url(#g9)"/>
<circle cx="486.10" cy="292.20" r="2.2" fill="#fff" stroke="#33648e" stroke-width="1.0"/>
<circle cx="487.40" cy="296.90" r="2.2" fill="#fff" stroke="#3cb77c" stroke-width="1.0"/>
<circle cx="482.70" cy="301.00" r="2.2" fill="#fff" stroke="#33648e" stroke-width="1.0"/>
<circle cx="482.70" cy="304.60" r="2.6" fill="url(#g7)"/>
<circle cx="482.70" cy="308.40" r="2.2" fill="#fff" stroke="#3e3f88" stroke-width="1.0"/>
<circle cx="482.70" cy="313.60" r="2.6" fill="url(#g7)"/>
<circle cx="322.10" cy="306.10" r="2.2" fill="#fff" stroke="#23918b" stroke-width="1.0"/>
<circle cx="324.20" cy="309.50" r="2.2" fill="#fff" stroke="#23918b" stroke-width="1.0"/>
<circle cx="317.60" cy="311.60" r="2.2" fill="#fff" stroke="#23918b" stroke-width="1.0"/>
<circle cx="321.50" cy="313.60" r="2.6" fill="url(#g6)"/>
<circle cx="319.40" cy="315.60" r="2.6" fill="url(#g6)"/>
<circle cx="324.20" cy="313.60" r="2.6" fill="url(#g6)"/>
<circle cx="327.60" cy="317.00" r="2.2" fill="#fff" stroke="#3e3f88" stroke-width="1.0"/>
<circle cx="322.80" cy="323.10" r="2.2" fill="#fff" stroke="#3e3f88" stroke-width="1.0"/>
<circle cx="322.80" cy="327.20" r="2.2" fill="#fff" stroke="#3e3f88" stroke-width="1.0"/>
<circle cx="325.30" cy="330.60" r="2.2" fill="#fff" stroke="#3e3f88" stroke-width="1.0"/>
<circle cx="327.60" cy="329.30" r="2.6" fill="url(#g7)"/>
<circle cx="322.80" cy="334.00" r="2.6" fill="url(#g7)"/>
<circle cx="322.80" cy="336.50" r="2.6" fill="url(#g7)"/>
<circle cx="325.30" cy="343.30" r="2.6" fill="url(#g7)"/>
<circle cx="332.30" cy="320.40" r="2.2" fill="#fff" stroke="#3cb77c" stroke-width="1.0"/>
<circle cx="333.70" cy="325.20" r="2.2" fill="#fff" stroke="#3cb77c" stroke-width="1.0"/>
<circle cx="333.70" cy="327.20" r="2.6" fill="url(#g8)"/>
<circle cx="340.50" cy="330.00" r="2.2" fill="#fff" stroke="#23918b" stroke-width="1.0"/>
<circle cx="334.40" cy="330.20" r="2.2" fill="#fff" stroke="#3e3f88" stroke-width="1.0"/>
<circle cx="333.40" cy="338.10" r="2.2" fill="#fff" stroke="#3e3f88" stroke-width="1.0"/>
<circle cx="337.80" cy="336.70" r="2.2" fill="#fff" stroke="#3e3f88" stroke-width="1.0"/>
<circle cx="334.40" cy="342.90" r="2.6" fill="url(#g7)"/>
<circle cx="338.50" cy="344.20" r="2.6" fill="url(#g9)"/>
<circle cx="333.70" cy="357.10" r="2.6" fill="url(#g10)"/>
<circle cx="340.50" cy="358.80" r="2.6" fill="url(#g7)"/>
<circle cx="342.80" cy="325.90" r="2.2" fill="#fff" stroke="#23918b" stroke-width="1.0"/>
<circle cx="342.10" cy="329.30" r="2.6" fill="url(#g6)"/>
<circle cx="356.80" cy="325.90" r="2.2" fill="#fff" stroke="#23918b" stroke-width="1.0"/>
<circle cx="360.40" cy="326.50" r="2.2" fill="#fff" stroke="#23918b" stroke-width="1.0"/>
<circle cx="365.20" cy="326.50" r="2.2" fill="#fff" stroke="#23918b" stroke-width="1.0"/>
<circle cx="356.80" cy="329.30" r="2.6" fill="url(#g6)"/>
<circle cx="360.40" cy="329.30" r="2.6" fill="url(#g6)"/>
<circle cx="365.20" cy="329.90" r="2.6" fill="url(#g6)"/>
<circle cx="381.30" cy="321.80" r="2.2" fill="#fff" stroke="#23918b" stroke-width="1.0"/>
<circle cx="378.10" cy="325.90" r="2.2" fill="#fff" stroke="#23918b" stroke-width="1.0"/>
<circle cx="382.20" cy="326.50" r="2.2" fill="#fff" stroke="#23918b" stroke-width="1.0"/>
<circle cx="378.10" cy="329.30" r="2.6" fill="url(#g6)"/>
<circle cx="382.20" cy="329.30" r="2.6" fill="url(#g6)"/>
<circle cx="389.70" cy="319.00" r="2.2" fill="#fff" stroke="#3e3f88" stroke-width="1.0"/>
<circle cx="391.10" cy="324.20" r="2.2" fill="#fff" stroke="#3e3f88" stroke-width="1.0"/>
<circle cx="390.80" cy="327.50" r="2.6" fill="url(#g7)"/>
<circle cx="347.50" cy="335.40" r="2.2" fill="#fff" stroke="#3e3f88" stroke-width="1.0"/>
<circle cx="339.10" cy="337.40" r="2.2" fill="#fff" stroke="#3e3f88" stroke-width="1.0"/>
<circle cx="375.40" cy="334.00" r="2.2" fill="#fff" stroke="#3e3f88" stroke-width="1.0"/>
<circle cx="386.30" cy="334.00" r="2.2" fill="#fff" stroke="#23918b" stroke-width="1.0"/>
<circle cx="388.30" cy="336.70" r="2.2" fill="#fff" stroke="#23918b" stroke-width="1.0"/>
<circle cx="391.70" cy="336.10" r="2.6" fill="url(#g7)"/>
<circle cx="355.00" cy="340.80" r="2.2" fill="#fff" stroke="#3cb77c" stroke-width="1.0"/>
<circle cx="370.70" cy="343.50" r="2.2" fill="#fff" stroke="#3e3f88" stroke-width="1.0"/>
<circle cx="380.40" cy="338.80" r="2.2" fill="#fff" stroke="#3e3f88" stroke-width="1.0"/>
<circle cx="375.40" cy="345.60" r="2.6" fill="url(#g7)"/>
<circle cx="386.30" cy="343.80" r="2.2" fill="#fff" stroke="#acd462" stroke-width="1.0"/>
<circle cx="383.60" cy="347.60" r="2.2" fill="#fff" stroke="#23918b" stroke-width="1.0"/>
<circle cx="379.50" cy="346.30" r="2.2" fill="#fff" stroke="#23918b" stroke-width="1.0"/>
<circle cx="343.20" cy="346.90" r="2.2" fill="#fff" stroke="#3e3f88" stroke-width="1.0"/>
<circle cx="347.50" cy="347.60" r="2.6" fill="url(#g7)"/>
<circle cx="339.10" cy="344.20" r="2.6" fill="url(#g7)"/>
<circle cx="358.40" cy="351.70" r="2.2" fill="#fff" stroke="#3e3f88" stroke-width="1.0"/>
<circle cx="370.00" cy="355.10" r="2.6" fill="url(#g7)"/>
<circle cx="382.90" cy="355.80" r="2.2" fill="#fff" stroke="#acd462" stroke-width="1.0"/>
<circle cx="386.30" cy="355.10" r="2.2" fill="#fff" stroke="#23918b" stroke-width="1.0"/>
<circle cx="343.40" cy="357.10" r="2.2" fill="#fff" stroke="#3e3f88" stroke-width="1.0"/>
<circle cx="440.00" cy="310.90" r="2.2" fill="#fff" stroke="#3e3f88" stroke-width="1.0"/>
<circle cx="440.00" cy="321.10" r="2.6" fill="url(#g7)"/>
<circle cx="432.10" cy="317.70" r="2.2" fill="#fff" stroke="#3cb77c" stroke-width="1.0"/>
<circle cx="399.20" cy="331.30" r="2.2" fill="#fff" stroke="#23918b" stroke-width="1.0"/>
<circle cx="399.20" cy="334.70" r="2.6" fill="url(#g6)"/>
<circle cx="434.10" cy="332.70" r="2.2" fill="#fff" stroke="#23918b" stroke-width="1.0"/>
<circle cx="434.10" cy="336.10" r="2.6" fill="url(#g6)"/>
<circle cx="401.50" cy="344.90" r="2.2" fill="#fff" stroke="#3cb77c" stroke-width="1.0"/>
<circle cx="411.70" cy="344.90" r="2.2" fill="#fff" stroke="#3e3f88" stroke-width="1.0"/>
<circle cx="415.80" cy="344.90" r="2.2" fill="#fff" stroke="#23918b" stroke-width="1.0"/>
<circle cx="415.80" cy="347.60" r="2.6" fill="url(#g6)"/>
<circle cx="441.60" cy="341.50" r="2.2" fill="#fff" stroke="#3e3f88" stroke-width="1.0"/>
<circle cx="445.00" cy="347.60" r="2.2" fill="#fff" stroke="#23918b" stroke-width="1.0"/>
<circle cx="440.90" cy="347.60" r="2.6" fill="url(#g6)"/>
<circle cx="445.00" cy="351.00" r="2.6" fill="url(#g6)"/>
<circle cx="411.70" cy="355.10" r="2.6" fill="url(#g10)"/>
<circle cx="430.00" cy="356.50" r="2.2" fill="#fff" stroke="#3e3f88" stroke-width="1.0"/>
<circle cx="456.50" cy="318.40" r="2.2" fill="#fff" stroke="#23918b" stroke-width="1.0"/>
<circle cx="456.50" cy="321.50" r="2.6" fill="url(#g6)"/>
<circle cx="474.20" cy="319.00" r="2.2" fill="#fff" stroke="#23918b" stroke-width="1.0"/>
<circle cx="474.20" cy="321.80" r="2.6" fill="url(#g6)"/>
<circle cx="478.80" cy="317.00" r="2.2" fill="#fff" stroke="#3cb77c" stroke-width="1.0"/>
<circle cx="494.60" cy="329.70" r="2.2" fill="#fff" stroke="#3cb77c" stroke-width="1.0"/>
<circle cx="459.80" cy="351.40" r="2.2" fill="#fff" stroke="#3cb77c" stroke-width="1.0"/>
<circle cx="475.20" cy="358.20" r="2.2" fill="#fff" stroke="#3e3f88" stroke-width="1.0"/>
<circle cx="475.20" cy="364.00" r="2.6" fill="url(#g7)"/>
<circle cx="343.90" cy="358.10" r="2.2" fill="#fff" stroke="#3e3f88" stroke-width="1.0"/>
<circle cx="341.70" cy="360.00" r="2.6" fill="url(#g7)"/>
<circle cx="347.60" cy="361.80" r="2.2" fill="#fff" stroke="#3e3f88" stroke-width="1.0"/>
<circle cx="347.10" cy="368.90" r="2.6" fill="url(#g9)"/>
<circle cx="358.40" cy="371.00" r="2.6" fill="url(#g10)"/>
<circle cx="343.90" cy="377.30" r="2.6" fill="url(#g10)"/>
<circle cx="382.20" cy="356.20" r="2.2" fill="#fff" stroke="#acd462" stroke-width="1.0"/>
<circle cx="391.40" cy="358.80" r="2.2" fill="#fff" stroke="#acd462" stroke-width="1.0"/>
<circle cx="386.70" cy="356.20" r="2.2" fill="#fff" stroke="#3e3f88" stroke-width="1.0"/>
<circle cx="386.70" cy="364.00" r="2.6" fill="url(#g7)"/>
<circle cx="386.70" cy="367.40" r="2.6" fill="url(#g7)"/>
<circle cx="394.10" cy="371.40" r="2.2" fill="#fff" stroke="#3e3f88" stroke-width="1.0"/>
<circle cx="394.40" cy="389.00" r="2.6" fill="url(#g10)"/>
<circle cx="361.50" cy="388.20" r="2.2" fill="#fff" stroke="#3e3f88" stroke-width="1.0"/>
<circle cx="361.50" cy="395.40" r="2.6" fill="url(#g9)"/>
<circle cx="374.50" cy="402.90" r="2.2" fill="#fff" stroke="#3e3f88" stroke-width="1.0"/>
<circle cx="374.50" cy="409.80" r="2.6" fill="url(#g9)"/>
<circle cx="430.10" cy="363.00" r="2.6" fill="url(#g9)"/>
<circle cx="419.40" cy="369.90" r="2.2" fill="#fff" stroke="#33648e" stroke-width="1.0"/>
<circle cx="423.20" cy="368.90" r="2.2" fill="#fff" stroke="#33648e" stroke-width="1.0"/>
<circle cx="419.40" cy="376.50" r="2.6" fill="url(#g9)"/>
<circle cx="422.80" cy="375.40" r="2.6" fill="url(#g9)"/>
<circle cx="445.90" cy="365.50" r="2.2" fill="#fff" stroke="#3e3f88" stroke-width="1.0"/>
<circle cx="450.80" cy="372.90" r="2.2" fill="#fff" stroke="#3e3f88" stroke-width="1.0"/>
<circle cx="450.30" cy="378.80" r="2.6" fill="url(#g9)"/>
<circle cx="445.90" cy="381.30" r="2.6" fill="url(#g10)"/>
<circle cx="401.30" cy="381.50" r="2.2" fill="#fff" stroke="#3e3f88" stroke-width="1.0"/>
<circle cx="401.30" cy="398.60" r="2.6" fill="url(#g10)"/>
<rect x="281.50" y="225.20" width="235.90" height="188.20" fill="none" stroke="#333" stroke-width="1.2"/>
<rect x="333.60" y="232.50" width="171.00" height="7.20" fill="url(#viridis)" stroke="#333" stroke-width="0.7"/>
<line x1="350.40" y1="239.70" x2="350.40" y2="241.90" stroke="#333" stroke-width="0.8" />
<text x="350.40" y="248.70" font-size="5.7" text-anchor="middle" font-weight="bold" >350</text>
<line x1="381.08" y1="239.70" x2="381.08" y2="241.90" stroke="#333" stroke-width="0.8" />
<text x="381.08" y="248.70" font-size="5.7" text-anchor="middle" font-weight="bold" >450</text>
<line x1="411.76" y1="239.70" x2="411.76" y2="241.90" stroke="#333" stroke-width="0.8" />
<text x="411.76" y="248.70" font-size="5.7" text-anchor="middle" font-weight="bold" >550</text>
<line x1="442.44" y1="239.70" x2="442.44" y2="241.90" stroke="#333" stroke-width="0.8" />
<text x="442.44" y="248.70" font-size="5.7" text-anchor="middle" font-weight="bold" >650</text>
<line x1="473.12" y1="239.70" x2="473.12" y2="241.90" stroke="#333" stroke-width="0.8" />
<text x="473.12" y="248.70" font-size="5.7" text-anchor="middle" font-weight="bold" >750</text>
<line x1="503.80" y1="239.70" x2="503.80" y2="241.90" stroke="#333" stroke-width="0.8" />
<text x="503.80" y="248.70" font-size="5.7" text-anchor="middle" font-weight="bold" >850</text>
<text x="426.40" y="258.00" font-size="5.5" text-anchor="middle" font-weight="bold" >Temperature (K)</text>
<text x="293.60" y="240.60" font-size="8.4" text-anchor="start" font-weight="bold" >(d)</text>
<text x="267.30" y="318.80" font-size="8.4" text-anchor="middle" font-weight="bold" transform="rotate(-90 267.30 318.80)">ΔP (GPa)</text>
<text x="400.30" y="436.10" font-size="8.55" text-anchor="middle" font-weight="bold" >Pressure (GPa)</text>
</svg>
</body></html>
